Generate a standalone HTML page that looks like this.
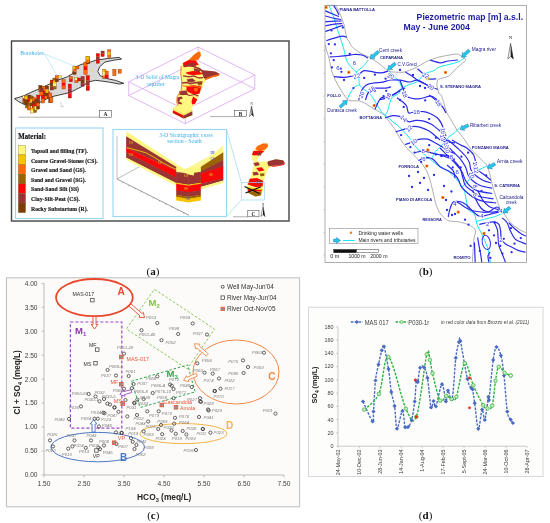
<!DOCTYPE html>
<html><head><meta charset="utf-8"><style>
html,body{margin:0;padding:0;background:#fff;overflow:hidden;}
svg{display:block;}
</style></head><body>
<svg width="550" height="523" viewBox="0 0 550 523">
<rect width="550" height="523" fill="#fff"/>
<rect x="11.5" y="41" width="277.5" height="180" fill="#fff" stroke="#444" stroke-width="1.4"/>
<polygon points="14.4,98.6 22.9,96.2 30.5,92.5 40.0,88.5 46.4,85.5 58.2,80.0 67.3,76.8 72.7,73.6 74.5,67.5 81.0,64.5 90.0,62.3 95.5,60.3 107.3,58.5 119.1,57.4 121.5,59.1 113.2,60.3 104.9,62.1 99.6,66.8 97.8,71.5 100.2,75.7 107.3,78.6 115.6,80.4 123.8,83.4 119.1,84.0 109.6,82.2 101.4,81.0 95.5,80.4 89.6,81.6 81.0,87.0 70.0,92.5 60.0,94.8 49.0,97.3 44.7,100.0 39.3,102.7 28.4,105.4 25.1,104.9 18.5,101.6" fill="#d9d9d9" stroke="#111" stroke-width="0.8" stroke-linejoin="round"/>
<line x1="44.5" y1="54" x2="57" y2="75.5" stroke="#8fd6f2" stroke-width="0.5"/>
<line x1="44.5" y1="54" x2="74" y2="66" stroke="#8fd6f2" stroke-width="0.5"/>
<text x="20.3" y="55.3" font-family="'Liberation Serif', serif" font-size="6.4" fill="#36aee6" textLength="23.5" lengthAdjust="spacingAndGlyphs">Boreholes</text>
<rect x="22.85" y="95.60" width="3.3" height="2.78" fill="#fdf77f"/>
<rect x="22.85" y="98.33" width="3.3" height="2.78" fill="#f80808"/>
<rect x="22.85" y="101.07" width="3.3" height="2.78" fill="#9a6500"/>
<rect x="22.85" y="95.60" width="3.3" height="8.20" fill="none" stroke="#6a2a08" stroke-width="0.3"/>
<rect x="27.75" y="95.00" width="3.3" height="3.35" fill="#7f3c06"/>
<rect x="27.75" y="98.30" width="3.3" height="3.35" fill="#f80808"/>
<rect x="27.75" y="95.00" width="3.3" height="6.60" fill="none" stroke="#6a2a08" stroke-width="0.3"/>
<rect x="29.95" y="96.00" width="3.3" height="3.38" fill="#9a6500"/>
<rect x="29.95" y="99.33" width="3.3" height="3.38" fill="#f6c400"/>
<rect x="29.95" y="102.67" width="3.3" height="3.38" fill="#7f3c06"/>
<rect x="29.95" y="96.00" width="3.3" height="10.00" fill="none" stroke="#6a2a08" stroke-width="0.3"/>
<rect x="32.15" y="97.30" width="3.3" height="3.68" fill="#fb6a0c"/>
<rect x="32.15" y="100.93" width="3.3" height="3.68" fill="#7f3c06"/>
<rect x="32.15" y="104.57" width="3.3" height="3.68" fill="#f80808"/>
<rect x="32.15" y="97.30" width="3.3" height="10.90" fill="none" stroke="#6a2a08" stroke-width="0.3"/>
<rect x="33.25" y="106.00" width="3.3" height="3.30" fill="#f6c400"/>
<rect x="33.25" y="109.25" width="3.3" height="3.30" fill="#9a6500"/>
<rect x="33.25" y="106.00" width="3.3" height="6.50" fill="none" stroke="#6a2a08" stroke-width="0.3"/>
<rect x="36.55" y="95.00" width="3.3" height="4.45" fill="#f80808"/>
<rect x="36.55" y="99.40" width="3.3" height="4.45" fill="#9a3434"/>
<rect x="36.55" y="95.00" width="3.3" height="8.80" fill="none" stroke="#6a2a08" stroke-width="0.3"/>
<rect x="38.75" y="85.30" width="3.3" height="3.30" fill="#7f3c06"/>
<rect x="38.75" y="88.55" width="3.3" height="3.30" fill="#fb6a0c"/>
<rect x="38.75" y="85.30" width="3.3" height="6.50" fill="none" stroke="#6a2a08" stroke-width="0.3"/>
<rect x="41.95" y="86.40" width="3.3" height="4.05" fill="#fb6a0c"/>
<rect x="41.95" y="90.40" width="3.3" height="4.05" fill="#f80808"/>
<rect x="41.95" y="94.40" width="3.3" height="4.05" fill="#fb6a0c"/>
<rect x="41.95" y="86.40" width="3.3" height="12.00" fill="none" stroke="#6a2a08" stroke-width="0.3"/>
<rect x="46.35" y="91.80" width="3.3" height="3.35" fill="#f80808"/>
<rect x="46.35" y="95.10" width="3.3" height="3.35" fill="#9a3434"/>
<rect x="46.35" y="91.80" width="3.3" height="6.60" fill="none" stroke="#6a2a08" stroke-width="0.3"/>
<rect x="48.55" y="93.00" width="3.3" height="4.90" fill="#fb6a0c"/>
<rect x="48.55" y="97.85" width="3.3" height="4.90" fill="#7f3c06"/>
<rect x="48.55" y="93.00" width="3.3" height="9.70" fill="none" stroke="#6a2a08" stroke-width="0.3"/>
<rect x="50.15" y="80.00" width="3.3" height="3.38" fill="#f80808"/>
<rect x="50.15" y="83.33" width="3.3" height="3.38" fill="#7f3c06"/>
<rect x="50.15" y="86.67" width="3.3" height="3.38" fill="#9a3434"/>
<rect x="50.15" y="80.00" width="3.3" height="10.00" fill="none" stroke="#6a2a08" stroke-width="0.3"/>
<rect x="52.85" y="78.00" width="3.3" height="2.80" fill="#9a6500"/>
<rect x="52.85" y="80.75" width="3.3" height="2.80" fill="#f6c400"/>
<rect x="52.85" y="83.50" width="3.3" height="2.80" fill="#fdf77f"/>
<rect x="52.85" y="86.25" width="3.3" height="2.80" fill="#9a6500"/>
<rect x="52.85" y="78.00" width="3.3" height="11.00" fill="none" stroke="#6a2a08" stroke-width="0.3"/>
<rect x="55.15" y="75.50" width="3.3" height="3.20" fill="#fb6a0c"/>
<rect x="55.15" y="78.65" width="3.3" height="3.20" fill="#7f3c06"/>
<rect x="55.15" y="75.50" width="3.3" height="6.30" fill="none" stroke="#6a2a08" stroke-width="0.3"/>
<rect x="58.35" y="75.50" width="3.3" height="2.55" fill="#fdf77f"/>
<rect x="58.35" y="75.50" width="3.3" height="2.50" fill="none" stroke="#6a2a08" stroke-width="0.3"/>
<rect x="61.95" y="79.50" width="3.3" height="3.22" fill="#fb6a0c"/>
<rect x="61.95" y="82.67" width="3.3" height="3.22" fill="#f80808"/>
<rect x="61.95" y="85.83" width="3.3" height="3.22" fill="#fb6a0c"/>
<rect x="61.95" y="79.50" width="3.3" height="9.50" fill="none" stroke="#6a2a08" stroke-width="0.3"/>
<rect x="68.15" y="84.00" width="3.3" height="4.72" fill="#f80808"/>
<rect x="68.15" y="88.67" width="3.3" height="4.72" fill="#9a3434"/>
<rect x="68.15" y="93.33" width="3.3" height="4.72" fill="#f80808"/>
<rect x="68.15" y="84.00" width="3.3" height="14.00" fill="none" stroke="#6a2a08" stroke-width="0.3"/>
<rect x="69.25" y="76.40" width="3.3" height="2.75" fill="#fb6a0c"/>
<rect x="69.25" y="79.10" width="3.3" height="2.75" fill="#f80808"/>
<rect x="69.25" y="76.40" width="3.3" height="5.40" fill="none" stroke="#6a2a08" stroke-width="0.3"/>
<rect x="72.85" y="66.00" width="3.3" height="2.88" fill="#f6c400"/>
<rect x="72.85" y="68.83" width="3.3" height="2.88" fill="#fb6a0c"/>
<rect x="72.85" y="71.67" width="3.3" height="2.88" fill="#7f3c06"/>
<rect x="72.85" y="66.00" width="3.3" height="8.50" fill="none" stroke="#6a2a08" stroke-width="0.3"/>
<rect x="75.65" y="66.40" width="3.3" height="2.65" fill="#fb6a0c"/>
<rect x="75.65" y="66.40" width="3.3" height="2.60" fill="none" stroke="#6a2a08" stroke-width="0.3"/>
<rect x="74.75" y="77.30" width="3.3" height="2.75" fill="#fdf77f"/>
<rect x="74.75" y="80.00" width="3.3" height="2.75" fill="#fb6a0c"/>
<rect x="74.75" y="77.30" width="3.3" height="5.40" fill="none" stroke="#6a2a08" stroke-width="0.3"/>
<rect x="77.35" y="78.00" width="3.3" height="3.05" fill="#f80808"/>
<rect x="77.35" y="78.00" width="3.3" height="3.00" fill="none" stroke="#6a2a08" stroke-width="0.3"/>
<rect x="80.95" y="76.40" width="3.3" height="3.38" fill="#9a3434"/>
<rect x="80.95" y="79.73" width="3.3" height="3.38" fill="#7f3c06"/>
<rect x="80.95" y="83.07" width="3.3" height="3.38" fill="#9a3434"/>
<rect x="80.95" y="76.40" width="3.3" height="10.00" fill="none" stroke="#6a2a08" stroke-width="0.3"/>
<rect x="83.85" y="62.00" width="3.3" height="4.22" fill="#fb6a0c"/>
<rect x="83.85" y="66.17" width="3.3" height="4.22" fill="#f80808"/>
<rect x="83.85" y="70.33" width="3.3" height="4.22" fill="#fb6a0c"/>
<rect x="83.85" y="62.00" width="3.3" height="12.50" fill="none" stroke="#6a2a08" stroke-width="0.3"/>
<rect x="86.15" y="75.50" width="3.3" height="5.05" fill="#f80808"/>
<rect x="86.15" y="80.50" width="3.3" height="5.05" fill="#9a3434"/>
<rect x="86.15" y="85.50" width="3.3" height="5.05" fill="#f80808"/>
<rect x="86.15" y="75.50" width="3.3" height="15.00" fill="none" stroke="#6a2a08" stroke-width="0.3"/>
<rect x="86.35" y="56.80" width="3.3" height="2.42" fill="#f6c400"/>
<rect x="86.35" y="59.17" width="3.3" height="2.42" fill="#fb6a0c"/>
<rect x="86.35" y="61.53" width="3.3" height="2.42" fill="#7f3c06"/>
<rect x="86.35" y="56.80" width="3.3" height="7.10" fill="none" stroke="#6a2a08" stroke-width="0.3"/>
<rect x="96.15" y="53.50" width="3.3" height="3.32" fill="#f80808"/>
<rect x="96.15" y="56.77" width="3.3" height="3.32" fill="#9a3434"/>
<rect x="96.15" y="60.03" width="3.3" height="3.32" fill="#f80808"/>
<rect x="96.15" y="53.50" width="3.3" height="9.80" fill="none" stroke="#6a2a08" stroke-width="0.3"/>
<rect x="100.95" y="51.00" width="3.3" height="2.80" fill="#9a3434"/>
<rect x="100.95" y="53.75" width="3.3" height="2.80" fill="#f80808"/>
<rect x="100.95" y="51.00" width="3.3" height="5.50" fill="none" stroke="#6a2a08" stroke-width="0.3"/>
<rect x="107.55" y="49.80" width="3.3" height="2.58" fill="#fb6a0c"/>
<rect x="107.55" y="52.33" width="3.3" height="2.58" fill="#f6c400"/>
<rect x="107.55" y="54.87" width="3.3" height="2.58" fill="#fb6a0c"/>
<rect x="107.55" y="49.80" width="3.3" height="7.60" fill="none" stroke="#6a2a08" stroke-width="0.3"/>
<rect x="85.85" y="56.50" width="3.3" height="3.30" fill="#f6c400"/>
<rect x="85.85" y="59.75" width="3.3" height="3.30" fill="#fb6a0c"/>
<rect x="85.85" y="56.50" width="3.3" height="6.50" fill="none" stroke="#6a2a08" stroke-width="0.3"/>
<rect x="102.65" y="69.20" width="3.3" height="3.18" fill="#f6c400"/>
<rect x="102.65" y="72.33" width="3.3" height="3.18" fill="#fdf77f"/>
<rect x="102.65" y="75.47" width="3.3" height="3.18" fill="#fb6a0c"/>
<rect x="102.65" y="69.20" width="3.3" height="9.40" fill="none" stroke="#6a2a08" stroke-width="0.3"/>
<rect x="105.05" y="71.00" width="3.3" height="3.55" fill="#fb6a0c"/>
<rect x="105.05" y="74.50" width="3.3" height="3.55" fill="#f80808"/>
<rect x="105.05" y="71.00" width="3.3" height="7.00" fill="none" stroke="#6a2a08" stroke-width="0.3"/>
<rect x="112.75" y="69.20" width="3.3" height="6.55" fill="#fb6a0c"/>
<rect x="112.75" y="69.20" width="3.3" height="6.50" fill="none" stroke="#6a2a08" stroke-width="0.3"/>
<rect x="118.05" y="69.20" width="3.3" height="4.15" fill="#fb6a0c"/>
<rect x="118.05" y="69.20" width="3.3" height="4.10" fill="none" stroke="#6a2a08" stroke-width="0.3"/>
<rect x="49.65" y="97.30" width="3.3" height="5.45" fill="#fb6a0c"/>
<rect x="49.65" y="97.30" width="3.3" height="5.40" fill="none" stroke="#6a2a08" stroke-width="0.3"/>
<rect x="43.85" y="93.00" width="3.3" height="3.05" fill="#7f3c06"/>
<rect x="43.85" y="96.00" width="3.3" height="3.05" fill="#fb6a0c"/>
<rect x="43.85" y="93.00" width="3.3" height="6.00" fill="none" stroke="#6a2a08" stroke-width="0.3"/>
<rect x="25.35" y="100.00" width="3.3" height="2.72" fill="#f80808"/>
<rect x="25.35" y="102.67" width="3.3" height="2.72" fill="#7f3c06"/>
<rect x="25.35" y="105.33" width="3.3" height="2.72" fill="#9a6500"/>
<rect x="25.35" y="100.00" width="3.3" height="8.00" fill="none" stroke="#6a2a08" stroke-width="0.3"/>
<rect x="34.85" y="99.00" width="3.3" height="3.72" fill="#7f3c06"/>
<rect x="34.85" y="102.67" width="3.3" height="3.72" fill="#f80808"/>
<rect x="34.85" y="106.33" width="3.3" height="3.72" fill="#fdf77f"/>
<rect x="34.85" y="99.00" width="3.3" height="11.00" fill="none" stroke="#6a2a08" stroke-width="0.3"/>
<rect x="39.85" y="88.00" width="3.3" height="4.05" fill="#9a3434"/>
<rect x="39.85" y="92.00" width="3.3" height="4.05" fill="#fb6a0c"/>
<rect x="39.85" y="88.00" width="3.3" height="8.00" fill="none" stroke="#6a2a08" stroke-width="0.3"/>
<rect x="27.35" y="103.00" width="3.3" height="3.55" fill="#9a6500"/>
<rect x="27.35" y="106.50" width="3.3" height="3.55" fill="#fb6a0c"/>
<rect x="27.35" y="103.00" width="3.3" height="7.00" fill="none" stroke="#6a2a08" stroke-width="0.3"/>
<rect x="30.35" y="108.00" width="3.3" height="2.55" fill="#f6c400"/>
<rect x="30.35" y="110.50" width="3.3" height="2.55" fill="#fdf77f"/>
<rect x="30.35" y="108.00" width="3.3" height="5.00" fill="none" stroke="#6a2a08" stroke-width="0.3"/>
<rect x="36.35" y="103.00" width="3.3" height="3.05" fill="#fb6a0c"/>
<rect x="36.35" y="106.00" width="3.3" height="3.05" fill="#7f3c06"/>
<rect x="36.35" y="103.00" width="3.3" height="6.00" fill="none" stroke="#6a2a08" stroke-width="0.3"/>
<rect x="41.35" y="95.00" width="3.3" height="4.05" fill="#f80808"/>
<rect x="41.35" y="99.00" width="3.3" height="4.05" fill="#fb6a0c"/>
<rect x="41.35" y="95.00" width="3.3" height="8.00" fill="none" stroke="#6a2a08" stroke-width="0.3"/>
<rect x="24.35" y="96.00" width="3.3" height="3.55" fill="#f6c400"/>
<rect x="24.35" y="99.50" width="3.3" height="3.55" fill="#7f3c06"/>
<rect x="24.35" y="96.00" width="3.3" height="7.00" fill="none" stroke="#6a2a08" stroke-width="0.3"/>
<rect x="45.35" y="86.00" width="3.3" height="3.55" fill="#7f3c06"/>
<rect x="45.35" y="89.50" width="3.3" height="3.55" fill="#f6c400"/>
<rect x="45.35" y="86.00" width="3.3" height="7.00" fill="none" stroke="#6a2a08" stroke-width="0.3"/>
<circle cx="92" cy="70.4" r="0.9" fill="#e8d840"/>
<path d="M60.5,102 L61.5,107 L64,106" fill="none" stroke="#888" stroke-width="0.4"/>
<line x1="18.3" y1="117.2" x2="99.5" y2="117.2" stroke="#777" stroke-width="0.6"/>
<rect x="99.5" y="110.6" width="12" height="6.6" fill="#fff" stroke="#333" stroke-width="0.5"/>
<text x="105.5" y="116" font-family="'Liberation Serif', serif" font-size="5.5" font-weight="bold" text-anchor="middle" fill="#222">A</text>
<line x1="128.7" y1="81.8" x2="198.2" y2="47" stroke="#c87cf0" stroke-width="0.55"/>
<line x1="198.2" y1="47" x2="254.8" y2="75" stroke="#c87cf0" stroke-width="0.55"/>
<line x1="254.8" y1="75" x2="185.3" y2="109.8" stroke="#c87cf0" stroke-width="0.55"/>
<line x1="185.3" y1="109.8" x2="128.7" y2="81.8" stroke="#c87cf0" stroke-width="0.55"/>
<line x1="128.7" y1="95.6" x2="198.2" y2="60.8" stroke="#c87cf0" stroke-width="0.55"/>
<line x1="198.2" y1="60.8" x2="254.8" y2="88.8" stroke="#c87cf0" stroke-width="0.55"/>
<line x1="254.8" y1="88.8" x2="185.3" y2="123.6" stroke="#c87cf0" stroke-width="0.55"/>
<line x1="185.3" y1="123.6" x2="128.7" y2="95.6" stroke="#c87cf0" stroke-width="0.55"/>
<line x1="128.7" y1="81.8" x2="128.7" y2="95.6" stroke="#c87cf0" stroke-width="0.55"/>
<line x1="198.2" y1="47" x2="198.2" y2="60.8" stroke="#c87cf0" stroke-width="0.55"/>
<line x1="254.8" y1="75" x2="254.8" y2="88.8" stroke="#c87cf0" stroke-width="0.55"/>
<line x1="185.3" y1="109.8" x2="185.3" y2="123.6" stroke="#c87cf0" stroke-width="0.55"/>
<polygon points="200.2,51.5 200.9,55.8 198.7,59.3 195.8,60.8 199.4,65.1 200.9,70.1 208.0,70.8 215.2,71.5 219.5,73.7 218.8,75.8 212.3,77.3 206.6,79.4 203.7,83.7 202.3,88.0 199.4,93.8 197.3,99.5 195.1,103.8 192.3,106.7 192.3,115.3 183.7,118.5 172.9,112.4 172.9,108.1 177.9,105.3 176.5,101.0 177.2,95.9 180.8,92.3 182.2,86.6 180.8,79.4 181.5,72.3 180.8,66.5 182.9,62.9 188.7,60.1 193.7,55.0 197.3,52.2" fill="#fdf77f"/>
<polygon points="188.7,60.1 193.7,55.0 197.3,52.2 200.2,51.5 200.9,55.8 198.7,59.3 195.8,60.8 192.3,61.1" fill="#fb6a0c"/>
<polygon points="182.9,62.9 188.7,60.1 195.8,60.8 198.7,64.4 193.7,66.5 188.0,66.5 183.4,66.5" fill="#f80808"/>
<polygon points="188.0,63.4 193.7,62.5 195.8,65.1 191.5,66.5 187.7,65.8" fill="#9a3434"/>
<polygon points="193.7,68.0 200.9,70.1 199.4,72.3 194.4,71.5" fill="#9a3434"/>
<polygon points="186.5,72.3 193.7,71.1 200.2,72.3 200.9,74.4 193.7,75.1 188.0,74.4" fill="#f80808"/>
<polygon points="200.9,70.1 208.0,70.8 215.2,71.5 219.5,73.7 218.8,75.8 212.3,77.3 206.6,79.4 203.7,78.0 202.6,74.4" fill="#9a3434"/>
<polygon points="219.5,73.7 218.8,75.8 212.3,77.3 206.6,79.4 204.5,80.2 206.6,77.7 212.3,75.7 217.8,74.6" fill="#fb6a0c"/>
<polygon points="186.5,79.4 192.3,78.3 195.8,80.9 191.5,82.6 188.0,82.0" fill="#9a3434"/>
<polygon points="197.3,81.6 202.6,80.9 201.6,85.2 198.0,85.5" fill="#9a6500"/>
<polygon points="186.5,85.9 193.7,85.2 201.6,86.6 199.4,93.8 194.4,94.5 190.1,93.1 186.5,90.9" fill="#f80808"/>
<polygon points="193.7,88.0 198.0,88.0 197.3,91.6 194.4,91.2" fill="#fb6a0c"/>
<polygon points="179.3,90.9 186.5,90.6 188.0,94.5 182.2,95.2 179.3,93.8" fill="#9a3434"/>
<polygon points="177.2,97.4 181.5,96.4 182.9,98.4 180.1,99.2 179.3,101.7 182.2,103.1 181.5,104.5 178.2,103.8 177.2,101.0" fill="#9a3434"/>
<polygon points="193.0,96.6 197.3,99.5 195.1,103.8 192.3,104.5 191.5,101.7" fill="#f80808"/>
<polyline points="184.4,66.5 189.4,65.1 193.7,66.5 199.4,68.7 201.6,70.5" fill="none" stroke="#9a3434" stroke-width="1.65" stroke-linejoin="round" stroke-linecap="round"/>
<polyline points="186.5,73.0 192.3,72.0 198.0,72.5 202.3,73.7" fill="none" stroke="#f80808" stroke-width="1.20" stroke-linejoin="round" stroke-linecap="round"/>
<polyline points="183.7,75.8 188.7,76.9 193.7,75.8 198.7,78.0 202.6,77.7" fill="none" stroke="#9a3434" stroke-width="1.35" stroke-linejoin="round" stroke-linecap="round"/>
<polyline points="182.2,83.0 186.5,82.6 190.8,83.7 195.8,82.6 201.6,83.0" fill="none" stroke="#9a3434" stroke-width="1.50" stroke-linejoin="round" stroke-linecap="round"/>
<polyline points="182.9,85.9 189.4,86.6 195.1,85.9 200.9,88.0" fill="none" stroke="#fb6a0c" stroke-width="1.05" stroke-linejoin="round" stroke-linecap="round"/>
<polyline points="180.1,94.5 185.1,93.8 189.4,95.5 194.4,94.5 198.0,95.9" fill="none" stroke="#9a3434" stroke-width="1.20" stroke-linejoin="round" stroke-linecap="round"/>
<polyline points="181.1,66.5 180.8,73.7 181.9,82.3 181.1,90.9 177.2,96.6 176.8,102.4 177.9,105.3" fill="none" stroke="#fb6a0c" stroke-width="0.90" stroke-linejoin="round" stroke-linecap="round"/>
<polygon points="172.9,108.1 183.7,113.6 192.3,109.3 192.3,111.3 183.7,115.6 172.9,110.3" fill="#f4ea6a"/>
<polygon points="172.9,110.3 183.7,115.6 183.7,118.5 172.9,113.1" fill="#f80808"/>
<polygon points="183.7,115.6 192.3,111.3 192.3,115.3 183.7,118.5" fill="#9a3434"/>
<polygon points="172.9,112.1 183.7,117.5 192.3,113.6 192.3,114.4 183.7,118.5 172.9,113.1" fill="#7f3c06" opacity="0.6"/>
<text x="157.6" y="79.4" font-family="'Liberation Serif', serif" font-size="6.4" fill="#36aee6" text-anchor="middle" textLength="44" lengthAdjust="spacingAndGlyphs">3-D Solid of Magra</text>
<text x="156" y="85.8" font-family="'Liberation Serif', serif" font-size="6.4" fill="#36aee6" text-anchor="middle">aquifer</text>
<line x1="210" y1="116.6" x2="234.5" y2="116.6" stroke="#777" stroke-width="0.6"/>
<rect x="234.5" y="110.5" width="11.9" height="6.2" fill="#fff" stroke="#333" stroke-width="0.5"/>
<text x="240.4" y="115.6" font-family="'Liberation Serif', serif" font-size="5.2" font-weight="bold" text-anchor="middle" fill="#222">B</text>
<text x="251.5" y="105.0" font-family="'Liberation Serif', serif" font-size="3" text-anchor="middle" fill="#222">N</text>
<path d="M251.5,106.0 L249.5,116.5 L251.5,114.5 L253.5,116.5 Z" fill="#fff" stroke="#222" stroke-width="0.5"/>
<path d="M251.5,106.0 L251.5,114.5 L253.5,116.5 Z" fill="#222"/>
<rect x="15.5" y="128" width="87.5" height="90.5" fill="#fff" stroke="#9ad6f2" stroke-width="1.1"/>
<text x="18.2" y="139" font-family="'Liberation Serif', serif" font-size="7.2" font-weight="bold" fill="#1a1a1a" stroke="#1a1a1a" stroke-width="0.2" textLength="27.8" lengthAdjust="spacingAndGlyphs">Material:</text>
<rect x="18.3" y="145.30" width="7.3" height="9.62" fill="#fdf77f" stroke="#6a5a3a" stroke-width="0.3"/>
<text x="31" y="153.00" font-family="'Liberation Serif', serif" font-size="6.2" font-weight="bold" fill="#1e1e1e" stroke="#1e1e1e" stroke-width="0.18" textLength="57" lengthAdjust="spacingAndGlyphs">Topsoil and filling (TF).</text>
<rect x="18.3" y="154.92" width="7.3" height="9.62" fill="#f6c400" stroke="#6a5a3a" stroke-width="0.3"/>
<text x="31" y="162.62" font-family="'Liberation Serif', serif" font-size="6.2" font-weight="bold" fill="#1e1e1e" stroke="#1e1e1e" stroke-width="0.18" textLength="66.7" lengthAdjust="spacingAndGlyphs">Coarse Gravel-Stones (CS).</text>
<rect x="18.3" y="164.54" width="7.3" height="9.62" fill="#fb6a0c" stroke="#6a5a3a" stroke-width="0.3"/>
<text x="31" y="172.24" font-family="'Liberation Serif', serif" font-size="6.2" font-weight="bold" fill="#1e1e1e" stroke="#1e1e1e" stroke-width="0.18" textLength="55" lengthAdjust="spacingAndGlyphs">Gravel and Sand (GS).</text>
<rect x="18.3" y="174.16" width="7.3" height="9.62" fill="#9a6500" stroke="#6a5a3a" stroke-width="0.3"/>
<text x="31" y="181.86" font-family="'Liberation Serif', serif" font-size="6.2" font-weight="bold" fill="#1e1e1e" stroke="#1e1e1e" stroke-width="0.18" textLength="55" lengthAdjust="spacingAndGlyphs">Sand and Gravel (SG).</text>
<rect x="18.3" y="183.78" width="7.3" height="9.62" fill="#f80808" stroke="#6a5a3a" stroke-width="0.3"/>
<text x="31" y="191.48" font-family="'Liberation Serif', serif" font-size="6.2" font-weight="bold" fill="#1e1e1e" stroke="#1e1e1e" stroke-width="0.18" textLength="48" lengthAdjust="spacingAndGlyphs">Sand-Sand Silt (SS)</text>
<rect x="18.3" y="193.40" width="7.3" height="9.62" fill="#9a3434" stroke="#6a5a3a" stroke-width="0.3"/>
<text x="31" y="201.10" font-family="'Liberation Serif', serif" font-size="6.2" font-weight="bold" fill="#1e1e1e" stroke="#1e1e1e" stroke-width="0.18" textLength="49" lengthAdjust="spacingAndGlyphs">Clay-Silt-Peat (CS).</text>
<rect x="18.3" y="203.02" width="7.3" height="9.62" fill="#7f3c06" stroke="#6a5a3a" stroke-width="0.3"/>
<text x="31" y="210.72" font-family="'Liberation Serif', serif" font-size="6.2" font-weight="bold" fill="#1e1e1e" stroke="#1e1e1e" stroke-width="0.18" textLength="57" lengthAdjust="spacingAndGlyphs">Rocky Substartum (R).</text>
<rect x="113" y="129.5" width="113.5" height="87" fill="#fff" stroke="#9ad6f2" stroke-width="1.1"/>
<line x1="117" y1="136" x2="117" y2="179" stroke="#5a5a5a" stroke-width="0.4"/>
<line x1="117" y1="179" x2="189" y2="215.3" stroke="#5a5a5a" stroke-width="0.6"/>
<line x1="117" y1="179" x2="141" y2="165.8" stroke="#5a5a5a" stroke-width="0.4"/>
<line x1="123.1" y1="182.1" x2="122.5" y2="183.3" stroke="#5a5a5a" stroke-width="0.4"/>
<line x1="129.2" y1="185.1" x2="128.6" y2="186.3" stroke="#5a5a5a" stroke-width="0.4"/>
<line x1="135.3" y1="188.2" x2="134.7" y2="189.4" stroke="#5a5a5a" stroke-width="0.4"/>
<line x1="141.4" y1="191.3" x2="140.8" y2="192.5" stroke="#5a5a5a" stroke-width="0.4"/>
<line x1="147.5" y1="194.3" x2="146.9" y2="195.5" stroke="#5a5a5a" stroke-width="0.4"/>
<line x1="153.6" y1="197.4" x2="153.0" y2="198.6" stroke="#5a5a5a" stroke-width="0.4"/>
<line x1="159.7" y1="200.5" x2="159.1" y2="201.7" stroke="#5a5a5a" stroke-width="0.4"/>
<line x1="165.8" y1="203.6" x2="165.2" y2="204.8" stroke="#5a5a5a" stroke-width="0.4"/>
<line x1="171.9" y1="206.6" x2="171.3" y2="207.8" stroke="#5a5a5a" stroke-width="0.4"/>
<line x1="178.0" y1="209.7" x2="177.4" y2="210.9" stroke="#5a5a5a" stroke-width="0.4"/>
<line x1="184.1" y1="212.8" x2="183.5" y2="214.0" stroke="#5a5a5a" stroke-width="0.4"/>
<polygon points="126.1,131.3 176.8,164.3 176.8,167.5 126.1,136.5" fill="#fdf77f"/>
<polygon points="126.1,136.2 176.8,167.2 176.8,171.0 126.1,148.1" fill="#9a3434"/>
<polygon points="126.1,147.8 176.8,170.7 176.8,178.2 126.1,152.5" fill="#f80808"/>
<polygon points="126.1,152.2 176.8,177.8 176.8,183.7 126.1,157.8" fill="#9a3434"/>
<polygon points="126.1,157.5 176.8,183.3 176.8,186.1 126.1,159.7" fill="#fdf77f"/>
<path d="M127,147.6 L139.5,151 L146,152.8 L153.6,157 L162.4,162.5 L170,166.5 L176.5,169.5" fill="none" stroke="#f6c400" stroke-width="0.9"/>
<polygon points="200.2,165.2 223.3,145.5 223.3,152.5 200.2,167.7" fill="#fdf77f"/>
<polygon points="200.2,167.3 223.3,152.2 223.3,160.1 200.2,172.2" fill="#9a6500"/>
<polygon points="200.2,171.8 223.3,159.8 223.3,166.7 200.2,174.2" fill="#9a3434"/>
<polygon points="200.2,173.8 223.3,166.3 223.3,178.7 200.2,184.1" fill="#f80808"/>
<polygon points="200.2,183.8 223.3,178.3 223.3,180.8 200.2,187.3" fill="#9a3434"/>
<polygon points="200.2,187.0 223.3,180.4 223.3,183.0 200.2,189.6" fill="#fdf77f"/>
<polygon points="176.2,167.8 188.8,169.8 188.8,174.2 176.2,172.2" fill="#fdf77f"/>
<polygon points="176.2,171.8 188.8,173.8 188.8,185.0 176.2,183.0" fill="#9a3434"/>
<polygon points="176.2,182.7 188.8,184.7 188.8,186.1 176.2,184.1" fill="#f6c400"/>
<polygon points="176.2,183.8 188.8,185.8 188.8,192.7 176.2,190.7" fill="#f80808"/>
<polygon points="176.2,190.3 188.8,192.3 188.8,197.0 176.2,195.0" fill="#9a3434"/>
<polygon points="176.2,194.7 188.8,196.7 188.8,199.2 176.2,197.2" fill="#9a6500"/>
<polygon points="176.2,196.8 188.8,198.8 188.8,202.5 176.2,200.5" fill="#f6c400"/>
<polygon points="188.2,169.8 200.8,167.3 200.8,172.2 188.2,174.2" fill="#fdf77f"/>
<polygon points="188.2,173.8 200.8,171.8 200.8,183.0 188.2,185.0" fill="#9a3434"/>
<polygon points="188.2,184.7 200.8,182.7 200.8,184.1 188.2,186.1" fill="#f6c400"/>
<polygon points="188.2,185.8 200.8,183.8 200.8,190.7 188.2,192.7" fill="#f80808"/>
<polygon points="188.2,192.3 200.8,190.3 200.8,195.0 188.2,197.0" fill="#9a3434"/>
<polygon points="188.2,196.7 200.8,194.7 200.8,197.2 188.2,199.2" fill="#9a6500"/>
<polygon points="188.2,198.8 200.8,196.8 200.8,200.5 188.2,202.5" fill="#f6c400"/>
<polygon points="176.5,164.5 190.0,172.4 194.0,173.0 194.0,175.5 188.5,174.5 176.5,167.5" fill="#fdf77f"/>
<polygon points="200.5,165.4 223.0,145.7 223.0,148.5 181.0,171.5 177.0,172.5 177.0,170.5" fill="#fbf59a"/>
<polygon points="176.5,164.5 184.0,168.9 200.5,165.4 200.5,168.0 188.5,172.5 176.5,167.5" fill="#fdf77f"/>
<text x="131" y="144" font-family="'Liberation Serif', serif" font-size="3.2" font-weight="bold" fill="#e8c020" text-anchor="middle">CS</text>
<text x="131" y="155.5" font-family="'Liberation Serif', serif" font-size="3.2" font-weight="bold" fill="#e8c020" text-anchor="middle">CS</text>
<text x="160" y="163.5" font-family="'Liberation Serif', serif" font-size="3.2" font-weight="bold" fill="#e8c020" text-anchor="middle">CS</text>
<text x="186" y="176.5" font-family="'Liberation Serif', serif" font-size="3.2" font-weight="bold" fill="#e8c020" text-anchor="middle">CS</text>
<text x="186" y="189.5" font-family="'Liberation Serif', serif" font-size="3.2" font-weight="bold" fill="#e8c020" text-anchor="middle">SS</text>
<text x="187.5" y="200" font-family="'Liberation Serif', serif" font-size="3.2" font-weight="bold" fill="#4a5ad0" text-anchor="middle">CS</text>
<text x="212.5" y="154" font-family="'Liberation Serif', serif" font-size="3.2" font-weight="bold" fill="#4a5ad0" text-anchor="middle">DF</text>
<text x="212.5" y="159.5" font-family="'Liberation Serif', serif" font-size="3.2" font-weight="bold" fill="#4a5ad0" text-anchor="middle">CS</text>
<text x="211" y="176" font-family="'Liberation Serif', serif" font-size="3.2" font-weight="bold" fill="#e8c020" text-anchor="middle">SS</text>
<text x="186" y="136.6" font-family="'Liberation Serif', serif" font-size="6.2" fill="#36aee6" text-anchor="middle" textLength="53.4" lengthAdjust="spacingAndGlyphs">3-D Stratigraphic cross</text>
<text x="184.5" y="143" font-family="'Liberation Serif', serif" font-size="6.2" fill="#36aee6" text-anchor="middle" textLength="34.5" lengthAdjust="spacingAndGlyphs">section - South</text>
<line x1="226.5" y1="129.5" x2="241.3" y2="182.5" stroke="#9ad6f2" stroke-width="0.7"/>
<line x1="226.5" y1="216.5" x2="241.3" y2="200" stroke="#9ad6f2" stroke-width="0.7"/>
<polygon points="267.3,143.6 268.2,146.3 264.5,151.0 259.9,154.7 257.1,160.3 259.9,162.1 268.2,161.2 275.7,159.3 283.1,160.3 284.9,163.0 281.2,164.9 273.8,165.8 268.2,168.6 265.5,175.1 263.6,182.5 262.7,189.9 260.8,195.5 255.3,196.4 247.8,191.8 246.0,188.1 247.8,182.5 250.6,176.9 252.5,169.5 253.4,162.1 251.5,156.5 253.4,151.0 257.1,146.3 262.7,143.6" fill="#fdf77f"/>
<polygon points="257.1,146.3 262.7,143.6 267.3,143.6 268.2,146.3 264.5,150.0 259.9,151.0 255.3,149.5" fill="#fb6a0c"/>
<polygon points="253.4,151.0 259.9,150.6 264.5,151.0 259.9,154.7 254.3,155.6 251.9,154.7" fill="#f80808"/>
<polygon points="257.1,152.8 261.7,152.5 260.8,155.6 257.1,155.6" fill="#9a3434"/>
<polygon points="268.2,161.2 275.7,159.3 283.1,160.3 284.9,163.0 281.2,164.9 273.8,165.8 268.6,166.2 267.3,163.0" fill="#9a3434"/>
<polygon points="281.2,164.9 284.9,163.0 284.0,164.9 275.7,166.6 271.0,166.9 273.8,165.8" fill="#f80808"/>
<polygon points="253.4,163.0 258.0,162.1 259.9,164.9 255.3,166.2" fill="#9a3434"/>
<polygon points="256.2,168.0 261.7,167.3 264.5,170.5 259.0,171.4" fill="#f80808"/>
<polygon points="252.5,172.3 257.1,171.8 259.0,174.7 253.4,175.5" fill="#9a3434"/>
<polygon points="259.9,173.6 264.5,173.2 264.2,176.0 260.4,176.2" fill="#9a6500"/>
<polygon points="249.7,178.8 257.1,177.9 263.0,180.7 262.7,186.2 256.2,187.2 247.8,184.4" fill="#f80808"/>
<polygon points="256.2,180.7 261.7,180.3 260.8,183.4 256.7,184.0" fill="#9a3434"/>
<polygon points="246.9,187.2 262.7,189.0 262.3,190.9 246.9,189.6" fill="#f6c400"/>
<polygon points="247.8,190.9 261.7,192.2 260.8,195.5 255.3,196.4 247.8,192.7" fill="#9a6500"/>
<polygon points="247.8,189.0 261.7,190.3 261.6,191.8 247.8,191.0" fill="#f80808"/>
<path d="M244.5,186.5 L259.5,193.5 M245.5,193 L261,186.8" stroke="#111" stroke-width="1.1"/>
<rect x="241.3" y="182.5" width="23.2" height="17.5" fill="none" stroke="#9ad6f2" stroke-width="0.7"/>
<line x1="233" y1="216.8" x2="247.8" y2="216.8" stroke="#777" stroke-width="0.6"/>
<rect x="247.8" y="210.3" width="11.2" height="6.5" fill="#fff" stroke="#333" stroke-width="0.5"/>
<text x="253.4" y="215.6" font-family="'Liberation Serif', serif" font-size="5.2" font-weight="bold" text-anchor="middle" fill="#222">C</text>
<text x="263" y="205.5" font-family="'Liberation Serif', serif" font-size="3" text-anchor="middle" fill="#222">N</text>
<path d="M263,206.5 L261,216.5 L263,214.5 L265,216.5 Z" fill="#fff" stroke="#222" stroke-width="0.5"/>
<path d="M263,206.5 L263,214.5 L265,216.5 Z" fill="#222"/>
<rect x="325" y="5.5" width="201.5" height="257" fill="#fff" stroke="#9a9a9a" stroke-width="0.8"/>
<line x1="323.5" y1="28" x2="325" y2="28" stroke="#9a9a9a" stroke-width="0.5"/>
<line x1="323.5" y1="50.7" x2="325" y2="50.7" stroke="#9a9a9a" stroke-width="0.5"/>
<line x1="323.5" y1="73.4" x2="325" y2="73.4" stroke="#9a9a9a" stroke-width="0.5"/>
<line x1="323.5" y1="96" x2="325" y2="96" stroke="#9a9a9a" stroke-width="0.5"/>
<line x1="323.5" y1="118.9" x2="325" y2="118.9" stroke="#9a9a9a" stroke-width="0.5"/>
<line x1="323.5" y1="141.6" x2="325" y2="141.6" stroke="#9a9a9a" stroke-width="0.5"/>
<line x1="323.5" y1="164.3" x2="325" y2="164.3" stroke="#9a9a9a" stroke-width="0.5"/>
<line x1="323.5" y1="187" x2="325" y2="187" stroke="#9a9a9a" stroke-width="0.5"/>
<line x1="323.5" y1="209.7" x2="325" y2="209.7" stroke="#9a9a9a" stroke-width="0.5"/>
<line x1="323.5" y1="232.4" x2="325" y2="232.4" stroke="#9a9a9a" stroke-width="0.5"/>
<line x1="323.5" y1="255.1" x2="325" y2="255.1" stroke="#9a9a9a" stroke-width="0.5"/>
<path d="M325.3,5.7 C326.3,5.7 334.0,4.7 335.5,5.7 C337.0,6.7 339.8,13.6 340.6,15.5 C341.5,17.4 343.5,23.1 344.0,24.6 C344.5,26.1 344.9,29.0 345.2,30.4 C345.5,31.8 346.5,37.4 346.9,38.4 C347.2,39.4 348.2,39.9 348.7,40.7 C349.2,41.5 350.6,45.4 351.5,46.4 C352.4,47.4 356.2,50.2 357.3,51.0 C358.4,51.8 361.7,53.8 363.0,54.5 C364.3,55.2 368.5,56.6 370.2,57.6 C371.9,58.6 377.8,62.7 379.6,64.0 C381.4,65.3 386.5,70.2 388.0,71.0 C389.5,71.8 393.4,72.0 395.0,72.1 C396.6,72.2 402.0,72.5 404.0,72.1 C406.0,71.7 412.5,69.2 414.8,68.1 C417.1,67.0 424.6,62.5 426.9,61.4 C429.2,60.3 435.6,58.0 437.6,57.4 C439.6,56.8 445.0,55.8 447.0,55.5 C449.0,55.2 455.3,53.7 457.2,54.1 C459.1,54.5 465.8,58.5 465.8,59.8 C465.8,61.1 458.9,65.9 457.2,67.5 C455.5,69.1 450.3,75.0 448.6,76.1 C446.9,77.2 441.1,78.3 440.0,78.7 C438.9,79.1 437.8,79.3 437.5,80.0 C437.2,80.7 436.8,84.2 436.9,85.5 C437.0,86.8 438.5,92.5 438.9,93.5 C439.3,94.5 440.7,94.0 441.2,95.0 C441.7,96.0 443.4,101.3 443.9,103.0 C444.4,104.7 445.9,110.8 446.6,112.4 C447.3,114.0 449.5,117.3 450.6,119.1 C451.7,120.9 455.8,128.3 457.2,130.3 C458.6,132.3 462.7,137.1 464.1,139.0 C465.5,140.9 469.4,147.4 471.0,149.3 C472.6,151.2 478.1,156.3 479.6,157.9 C481.2,159.5 485.6,163.8 486.5,164.8 C487.4,165.8 487.8,166.8 488.2,168.2 C488.6,169.6 490.3,176.4 490.8,178.5 C491.3,180.6 492.8,186.7 493.4,188.8 C494.0,190.9 496.1,197.1 496.8,199.2 C497.5,201.3 499.6,208.3 500.2,209.5 C500.8,210.7 501.6,210.2 502.4,211.2 C503.2,212.2 506.9,218.3 508.0,219.7 C509.1,221.1 512.6,224.4 513.7,225.4 C514.8,226.4 518.1,228.8 519.4,229.6 C520.7,230.4 525.8,232.7 526.5,233.0" fill="none" stroke="#8a8a8a" stroke-width="0.7"/>
<path d="M472.4,262.5 C472.4,261.9 472.6,258.1 472.7,256.5 C472.8,254.9 473.3,248.4 473.4,246.6 C473.5,244.8 473.9,239.6 474.1,238.0 C474.3,236.4 475.7,232.1 475.6,231.0 C475.5,229.9 473.7,227.8 472.8,227.1 C471.9,226.4 467.9,224.4 466.4,223.9 C464.9,223.4 459.6,222.0 457.8,221.7 C456.0,221.4 449.9,221.4 448.2,220.7 C446.5,219.9 441.9,215.7 440.7,214.2 C439.5,212.7 437.1,207.8 436.4,205.7 C435.6,203.6 433.8,195.4 433.2,192.8 C432.6,190.2 430.6,182.1 430.0,180.0 C429.4,177.9 427.7,173.1 426.8,171.4 C425.9,169.7 422.6,164.3 421.4,162.8 C420.2,161.3 416.3,157.7 415.0,156.4 C413.7,155.1 409.8,151.3 408.6,150.0 C407.4,148.7 404.0,144.6 402.9,143.0 C401.8,141.4 398.6,135.9 397.7,134.4 C396.8,132.9 395.2,129.7 394.3,128.4 C393.4,127.1 390.1,122.8 389.1,121.5 C388.1,120.2 385.4,116.0 384.2,114.9 C383.0,113.8 378.8,111.7 377.5,110.9 C376.2,110.1 372.2,107.7 370.9,106.9 C369.6,106.1 365.4,103.4 364.2,102.8 C363.0,102.2 360.1,101.0 358.8,100.8 C357.5,100.6 352.0,101.0 350.8,100.8 C349.6,100.6 347.7,99.8 346.8,98.8 C345.9,97.8 342.5,92.5 341.4,90.8 C340.3,89.1 336.9,83.3 336.0,81.4 C335.1,79.5 332.7,74.1 332.0,72.0 C331.3,69.9 329.7,61.5 329.4,60.0 C329.1,58.5 328.9,57.9 328.6,56.8 C328.3,55.7 326.6,50.6 326.3,49.4 C326.0,48.2 325.4,45.4 325.3,45.0" fill="none" stroke="#8a8a8a" stroke-width="0.7"/>
<path d="M329.2,5.7 C330.1,7.9 333.1,15.4 334.3,18.9 C335.5,22.4 335.6,23.8 336.6,26.9 C337.6,30.0 339.2,34.4 340.1,37.3 C341.1,40.2 341.6,41.6 342.3,44.1 C343.1,46.6 343.9,49.5 344.6,52.2 C345.3,54.9 345.4,57.8 346.4,60.2 C347.4,62.6 349.2,64.7 350.8,66.7 C352.4,68.7 354.8,70.0 356.1,72.0 C357.4,74.0 358.2,76.6 358.8,78.7 C359.4,80.8 358.6,83.0 359.5,84.8 C360.4,86.6 362.5,88.0 364.2,89.5 C365.9,91.0 367.9,92.0 369.5,93.5 C371.1,95.0 372.2,96.8 373.5,98.8 C374.8,100.8 376.1,103.3 377.5,105.5 C378.9,107.7 380.4,110.6 381.6,112.2 C382.9,113.8 383.1,113.5 385.0,115.1 C386.9,116.7 390.1,119.3 393.0,121.8 C395.9,124.2 399.5,126.9 402.4,129.8 C405.3,132.7 407.9,136.1 410.4,139.2 C412.8,142.3 414.6,145.8 417.1,148.5 C419.6,151.2 422.7,153.2 425.2,155.2 C427.7,157.2 429.9,159.0 431.9,160.6 C433.9,162.2 435.3,163.8 437.2,165.0 C439.1,166.2 440.9,166.8 443.0,168.0 C445.1,169.2 447.3,170.3 449.6,172.3 C451.9,174.3 454.7,177.2 457.0,180.0 C459.3,182.8 462.0,186.1 463.4,188.8 C464.8,191.5 464.9,193.6 465.5,196.0 C466.1,198.4 466.3,200.7 466.8,203.0 C467.3,205.3 467.2,208.2 468.5,210.0 C469.8,211.8 473.0,211.6 474.4,214.0 C475.8,216.4 475.7,221.0 477.1,224.6 C478.5,228.2 481.0,232.2 482.6,235.6 C484.2,239.0 485.6,242.7 486.5,245.0 C487.4,247.3 487.4,246.5 488.1,249.4 C488.8,252.3 490.1,260.3 490.5,262.5" fill="none" stroke="#19e6f0" stroke-width="1.0"/>
<path d="M359.5,84.8 C358.7,85.1 356.2,85.6 354.8,86.8 C353.4,88.0 352.0,90.1 350.8,92.1 C349.6,94.1 348.0,97.7 347.4,98.8" fill="none" stroke="#19e6f0" stroke-width="1.0"/>
<path d="M356.1,72.0 C357.5,70.9 362.2,67.4 364.2,65.4 C366.2,63.4 367.5,60.9 368.2,60.0" fill="none" stroke="#19e6f0" stroke-width="1.0"/>
<path d="M388.0,69.5 C388.9,70.6 391.7,74.3 393.4,76.1 C395.1,77.8 396.7,78.2 398.0,80.0 C399.3,81.8 401.3,84.7 401.4,86.9 C401.5,89.2 400.3,91.7 398.7,93.5 C397.1,95.3 393.6,95.8 392.0,97.6 C390.4,99.4 390.1,102.3 389.4,104.3 C388.7,106.3 388.5,108.0 388.0,109.6 C387.5,111.2 386.8,112.8 386.3,113.7 C385.8,114.6 385.2,114.9 385.0,115.1" fill="none" stroke="#19e6f0" stroke-width="1.0"/>
<path d="M465.0,57.0 C463.8,57.8 462.1,60.4 458.0,62.0 C453.9,63.6 444.3,65.3 440.2,66.8 C436.1,68.3 436.2,69.6 433.5,70.8 C430.8,72.0 426.9,72.3 424.2,74.1 C421.5,75.9 420.4,79.6 417.5,81.5 C414.6,83.4 409.5,84.4 406.8,85.5 C404.1,86.6 402.3,87.8 401.4,88.2" fill="none" stroke="#19e6f0" stroke-width="1.0"/>
<path d="M455.0,132.5 C453.8,133.4 450.2,135.6 447.9,137.8 C445.6,140.0 443.2,143.7 441.2,145.9 C439.2,148.1 437.4,149.2 435.9,151.2 C434.3,153.2 432.6,156.8 431.9,157.9" fill="none" stroke="#19e6f0" stroke-width="1.0"/>
<path d="M487.0,166.0 C485.4,166.8 480.2,168.9 477.5,170.8 C474.8,172.7 472.8,175.3 470.8,177.5 C468.8,179.7 467.0,182.6 465.4,184.2 C463.8,185.8 462.1,186.4 461.4,186.9" fill="none" stroke="#19e6f0" stroke-width="1.0"/>
<path d="M503.8,212.6 C502.4,213.2 498.4,215.4 495.4,216.5 C492.3,217.6 488.4,218.2 485.5,219.0 C482.6,219.8 479.6,220.5 478.0,221.0 C476.4,221.5 476.3,221.8 476.0,222.0" fill="none" stroke="#19e6f0" stroke-width="1.0"/>
<path d="M459.5,127.5 C458.8,128.3 455.8,131.7 455.0,132.5" fill="none" stroke="#19e6f0" stroke-width="1.0"/>
<path d="M325.3,10.9 C326.6,11.5 330.9,13.4 333.2,14.3 C335.5,15.2 337.9,16.2 338.9,16.6" fill="none" stroke="#2b2bea" stroke-width="1.2"/>
<path d="M333.7,5.7 C334.2,6.4 335.6,8.5 336.5,10.0 C337.4,11.5 338.5,14.1 338.9,14.9" fill="none" stroke="#2b2bea" stroke-width="1.2"/>
<path d="M325.3,16.0 C326.8,16.4 331.7,17.7 334.3,18.3 C336.9,18.9 340.1,19.3 341.2,19.5" fill="none" stroke="#2b2bea" stroke-width="1.2"/>
<path d="M325.3,21.8 C326.8,21.7 331.6,21.3 334.3,21.2 C337.1,21.1 340.6,21.0 341.8,21.0" fill="none" stroke="#2b2bea" stroke-width="1.2"/>
<path d="M325.3,25.8 C326.8,25.5 331.5,24.5 334.3,24.1 C337.1,23.7 341.0,23.6 342.3,23.5" fill="none" stroke="#2b2bea" stroke-width="1.2"/>
<path d="M325.3,31.5 C326.6,31.0 330.3,29.8 333.2,28.7 C336.1,27.6 341.3,25.8 342.9,25.2" fill="none" stroke="#2b2bea" stroke-width="1.2"/>
<path d="M326.3,40.7 C327.4,40.3 330.5,39.2 333.2,38.4 C335.9,37.6 340.0,36.3 342.3,36.1 C344.6,35.9 346.1,37.1 346.9,37.3" fill="none" stroke="#2b2bea" stroke-width="1.2"/>
<path d="M329.7,56.8 C331.1,56.8 334.9,56.7 337.8,56.5 C340.7,56.3 344.2,55.9 346.9,55.6 C349.6,55.3 351.3,54.6 353.8,54.5 C356.3,54.4 359.4,54.4 361.8,55.0 C364.2,55.6 367.0,57.5 368.0,58.0" fill="none" stroke="#2b2bea" stroke-width="1.2"/>
<path d="M334.0,76.7 C335.7,76.8 340.9,77.5 344.0,77.4 C347.1,77.3 350.8,76.3 352.8,76.0 C354.8,75.7 354.8,75.8 356.0,75.4 C357.2,75.0 358.6,74.2 360.0,73.4 C361.4,72.6 362.4,71.0 364.2,70.7 C366.0,70.4 368.7,71.1 370.9,71.4 C373.1,71.7 375.5,72.5 377.5,72.7 C379.5,72.9 381.1,73.0 382.9,72.7 C384.6,72.4 387.1,71.3 388.0,71.0" fill="none" stroke="#2b2bea" stroke-width="1.2"/>
<path d="M358.8,100.2 C359.1,98.8 359.9,94.3 360.8,92.1 C361.7,89.9 363.0,88.1 364.2,86.8 C365.4,85.5 366.4,84.8 368.2,84.1 C370.0,83.4 372.4,83.1 374.9,82.8 C377.3,82.5 380.2,82.6 382.9,82.1 C385.6,81.6 388.1,80.3 391.0,80.0 C393.9,79.7 396.8,79.9 400.0,80.2 C403.2,80.5 407.1,82.0 410.0,82.0 C412.9,82.0 414.5,79.6 417.5,80.2 C420.5,80.8 424.8,84.0 428.2,85.5 C431.6,87.0 436.0,88.8 437.6,89.5" fill="none" stroke="#2b2bea" stroke-width="1.2"/>
<path d="M365.5,100.2 C365.8,99.2 366.5,96.0 367.5,94.1 C368.5,92.2 369.8,89.8 371.5,88.8 C373.2,87.8 375.1,88.2 377.5,88.1 C379.9,88.0 383.4,88.3 385.6,88.1 C387.9,87.9 390.1,87.0 391.0,86.8" fill="none" stroke="#2b2bea" stroke-width="1.2"/>
<path d="M374.9,109.5 C375.8,107.7 378.4,100.9 380.2,98.8 C382.0,96.7 383.3,97.5 385.6,96.8 C387.9,96.1 391.6,95.9 394.0,94.8 C396.4,93.7 398.1,91.1 400.0,90.0 C401.9,88.9 404.5,88.3 405.4,88.0" fill="none" stroke="#2b2bea" stroke-width="1.2"/>
<path d="M380.0,99.6 C381.3,99.3 385.6,98.6 388.0,97.6 C390.4,96.6 392.7,94.6 394.7,93.5 C396.7,92.4 399.1,91.4 400.0,91.0" fill="none" stroke="#2b2bea" stroke-width="1.2"/>
<path d="M405.4,72.1 C406.5,72.8 410.0,74.7 412.0,76.0 C414.0,77.3 415.7,79.0 417.5,80.2 C419.3,81.4 421.0,82.1 422.8,83.0 C424.6,83.9 427.3,85.1 428.2,85.5" fill="none" stroke="#2b2bea" stroke-width="1.2"/>
<path d="M417.5,68.8 C418.4,69.6 421.1,71.8 422.8,73.5 C424.5,75.2 425.3,77.9 427.5,78.8 C429.7,79.7 434.8,78.8 436.2,78.8" fill="none" stroke="#2b2bea" stroke-width="1.2"/>
<path d="M430.2,60.1 C431.9,60.5 437.2,62.6 440.2,62.8 C443.2,62.9 445.0,61.5 448.0,61.0 C451.0,60.5 456.3,60.2 458.0,60.0" fill="none" stroke="#2b2bea" stroke-width="1.2"/>
<path d="M400.0,80.2 C400.5,81.5 401.9,85.3 403.0,88.0 C404.1,90.7 404.2,94.4 406.8,96.2 C409.4,98.0 414.8,98.9 418.8,98.9 C422.8,98.9 427.5,95.8 430.9,96.2 C434.2,96.7 437.2,100.0 438.9,101.6 C440.6,103.2 440.6,105.3 441.0,106.0" fill="none" stroke="#2b2bea" stroke-width="1.2"/>
<path d="M397.0,97.7 C397.9,98.4 400.8,100.4 402.4,101.7 C404.0,103.0 405.5,104.2 406.4,105.7 C407.3,107.2 407.4,109.8 407.8,111.0 C408.2,112.2 407.8,113.0 409.1,113.1 C410.4,113.2 413.4,111.9 415.8,111.7 C418.2,111.5 421.4,111.4 423.8,111.7 C426.2,112.0 428.3,112.7 430.5,113.7 C432.7,114.7 435.4,116.2 437.2,117.8 C439.0,119.4 440.1,121.1 441.2,123.1 C442.3,125.1 443.1,127.7 443.9,129.8 C444.7,132.0 445.6,135.0 446.0,136.0" fill="none" stroke="#2b2bea" stroke-width="1.2"/>
<path d="M429.2,95.0 C430.3,95.9 433.7,98.4 435.9,100.4 C438.1,102.4 440.9,104.9 442.6,107.0 C444.3,109.1 445.4,112.0 446.0,113.0" fill="none" stroke="#2b2bea" stroke-width="1.2"/>
<path d="M385.0,117.8 C386.3,117.5 390.6,115.9 393.0,115.7 C395.4,115.5 397.9,116.0 399.7,116.4 C401.5,116.9 402.1,117.5 403.7,118.4 C405.3,119.3 407.1,121.5 409.1,121.8 C411.1,122.1 413.4,120.5 415.8,120.4 C418.2,120.3 421.1,120.4 423.8,121.1 C426.5,121.8 429.4,123.0 431.9,124.5 C434.3,126.0 436.7,128.2 438.5,129.8 C440.3,131.4 441.4,132.1 442.6,133.8 C443.9,135.5 445.1,139.0 446.0,140.0 C446.9,141.0 447.7,140.0 448.0,140.0" fill="none" stroke="#2b2bea" stroke-width="1.2"/>
<path d="M395.7,131.8 C396.8,131.5 400.3,130.5 402.4,129.8 C404.5,129.1 406.8,128.3 408.4,127.8 C410.0,127.2 409.9,126.6 411.8,126.5 C413.7,126.4 416.9,126.3 419.8,127.1 C422.7,127.9 426.5,129.5 429.2,131.1 C431.9,132.7 433.9,134.9 435.9,136.5 C437.9,138.1 439.4,139.6 441.2,140.5 C443.0,141.4 444.3,141.5 446.6,141.9 C448.9,142.3 453.6,142.8 455.0,143.0" fill="none" stroke="#2b2bea" stroke-width="1.2"/>
<path d="M405.1,144.5 C406.4,144.1 410.7,142.8 413.1,141.9 C415.6,141.0 417.4,139.6 419.8,139.2 C422.2,138.8 425.1,138.5 427.8,139.2 C430.5,139.9 433.4,141.9 435.9,143.2 C438.4,144.5 440.8,146.1 442.6,147.2 C444.4,148.3 444.5,148.8 446.6,149.9 C448.7,151.0 453.6,153.2 455.0,153.9" fill="none" stroke="#2b2bea" stroke-width="1.2"/>
<path d="M414.5,152.6 C415.9,152.4 420.5,151.2 423.2,151.2 C425.9,151.2 427.5,151.9 430.5,152.6 C433.5,153.3 438.1,154.3 441.2,155.2 C444.3,156.1 447.0,157.2 449.3,157.9 C451.6,158.6 454.1,159.1 455.0,159.3" fill="none" stroke="#2b2bea" stroke-width="1.2"/>
<path d="M418.5,160.6 C419.4,160.2 422.2,158.4 424.0,158.0 C425.8,157.6 428.3,157.9 429.2,157.9" fill="none" stroke="#2b2bea" stroke-width="1.2"/>
<path d="M452.0,140.0 C453.6,140.9 458.9,144.1 461.4,145.4 C463.9,146.7 464.8,146.4 466.8,148.0 C468.8,149.6 472.1,152.5 473.5,154.7 C474.9,156.9 474.8,158.9 475.5,161.4 C476.2,163.9 476.1,167.3 477.5,169.5 C478.9,171.7 482.0,173.0 484.2,174.8 C486.4,176.6 489.8,179.3 490.9,180.2" fill="none" stroke="#2b2bea" stroke-width="1.2"/>
<path d="M448.0,140.0 C449.6,141.3 454.5,145.3 457.4,148.0 C460.3,150.7 463.4,153.5 465.4,156.0 C467.4,158.5 468.6,160.6 469.5,162.8 C470.4,165.1 469.9,167.5 470.8,169.5 C471.7,171.5 472.8,173.0 474.8,174.8 C476.8,176.6 480.1,178.9 482.8,180.2 C485.5,181.5 489.5,182.4 490.9,182.8" fill="none" stroke="#2b2bea" stroke-width="1.2"/>
<path d="M444.0,142.7 C445.3,144.0 449.3,148.0 452.0,150.7 C454.7,153.4 457.8,156.0 460.0,158.7 C462.2,161.4 464.0,164.1 465.4,166.8 C466.8,169.5 467.0,172.6 468.1,174.8 C469.2,177.0 470.1,178.4 472.1,180.2 C474.1,182.0 476.9,184.2 480.2,185.5 C483.5,186.8 490.2,187.8 492.2,188.2" fill="none" stroke="#2b2bea" stroke-width="1.2"/>
<path d="M440.0,148.0 C441.1,149.1 444.2,152.2 446.7,154.7 C449.1,157.2 452.2,160.1 454.7,162.8 C457.1,165.5 459.6,167.9 461.4,170.8 C463.2,173.7 464.0,177.8 465.4,180.2 C466.8,182.6 467.5,183.7 469.5,185.5 C471.5,187.3 473.7,189.6 477.5,190.9 C481.3,192.2 489.8,193.1 492.2,193.5" fill="none" stroke="#2b2bea" stroke-width="1.2"/>
<path d="M440.0,154.7 C441.6,154.9 446.9,154.9 449.4,156.0 C451.8,157.1 452.9,159.4 454.7,161.4 C456.5,163.4 458.6,165.4 460.0,168.1 C461.4,170.8 461.9,174.6 462.8,177.5 C463.7,180.4 463.8,183.3 465.4,185.5 C466.9,187.7 469.9,189.1 472.1,190.9 C474.3,192.7 475.2,194.9 478.8,196.2 C482.4,197.5 491.1,198.4 493.5,198.9" fill="none" stroke="#2b2bea" stroke-width="1.2"/>
<path d="M421.4,157.5 C423.2,157.7 429.0,157.0 432.1,158.6 C435.2,160.2 437.4,164.8 440.0,166.8 C442.6,168.8 445.6,169.5 448.0,170.8 C450.4,172.1 452.9,173.2 454.7,174.8 C456.5,176.4 457.6,178.2 458.7,180.2 C459.8,182.2 459.8,184.7 461.4,186.9 C463.0,189.1 465.7,191.5 468.1,193.5 C470.6,195.5 473.4,197.6 476.1,198.9 C478.8,200.2 480.9,200.9 484.2,201.6 C487.5,202.3 494.2,202.7 496.2,202.9" fill="none" stroke="#2b2bea" stroke-width="1.2"/>
<path d="M447.1,165.0 C448.2,166.1 452.2,169.2 453.5,171.4 C454.8,173.6 454.8,176.9 455.0,178.0" fill="none" stroke="#2b2bea" stroke-width="1.2"/>
<path d="M453.4,201.6 C454.3,201.8 456.5,201.8 458.7,202.9 C460.9,204.0 464.2,207.0 466.8,208.3 C469.4,209.7 471.6,210.4 474.0,211.0 C476.4,211.6 478.8,211.8 481.2,212.0 C483.6,212.2 485.7,212.8 488.3,212.0 C490.9,211.2 494.7,207.2 496.8,207.0 C498.9,206.8 500.3,210.3 501.0,211.0" fill="none" stroke="#2b2bea" stroke-width="1.2"/>
<path d="M477.6,190.0 C478.4,191.6 480.7,197.1 482.6,199.8 C484.5,202.5 486.9,204.9 489.1,206.4 C491.3,207.9 493.7,208.1 495.6,208.8 C497.5,209.5 499.8,210.2 500.6,210.5" fill="none" stroke="#2b2bea" stroke-width="1.2"/>
<path d="M472.7,190.0 C473.2,191.6 474.6,196.8 476.0,199.8 C477.4,202.8 479.3,206.1 480.9,208.0 C482.5,209.9 483.9,210.6 485.8,211.3 C487.7,212.0 489.9,212.2 492.4,212.1 C494.9,212.0 499.2,210.8 500.6,210.5" fill="none" stroke="#2b2bea" stroke-width="1.2"/>
<path d="M448.2,217.0 C448.5,215.8 449.0,212.0 449.8,209.6 C450.6,207.2 451.5,203.7 453.1,202.3 C454.7,201.0 457.4,201.1 459.6,201.5 C461.8,201.9 464.0,203.1 466.2,204.7 C468.4,206.3 470.5,209.4 472.7,211.3 C474.9,213.2 477.1,215.5 479.3,216.2 C481.5,216.9 483.6,215.8 485.8,215.4 C488.0,215.0 490.2,214.2 492.4,213.7 C494.6,213.1 497.8,212.4 498.9,212.1" fill="none" stroke="#2b2bea" stroke-width="1.2"/>
<path d="M479.3,224.4 C480.7,224.1 485.1,223.1 487.5,222.7 C489.9,222.3 492.1,221.6 494.0,221.9 C495.9,222.2 497.8,222.9 498.9,224.4 C500.0,225.9 500.2,228.5 500.6,230.9 C501.0,233.3 500.6,236.9 501.4,239.1 C502.2,241.3 503.7,242.6 505.5,244.0 C507.3,245.4 509.8,246.2 512.0,247.3 C514.2,248.4 516.4,249.8 518.6,250.6 C520.9,251.4 524.4,251.9 525.5,252.2" fill="none" stroke="#2b2bea" stroke-width="1.2"/>
<path d="M494.0,221.9 C494.6,223.1 496.6,226.7 497.3,229.3 C498.0,231.9 497.8,234.8 498.1,237.5 C498.4,240.2 498.2,242.9 498.9,245.6 C499.6,248.3 501.1,251.0 502.2,253.8 C503.3,256.6 504.9,260.9 505.5,262.3" fill="none" stroke="#2b2bea" stroke-width="1.2"/>
<path d="M502.2,217.8 C503.0,218.6 505.7,220.5 507.1,222.7 C508.5,224.9 509.0,228.2 510.4,230.9 C511.8,233.6 513.4,237.2 515.3,239.1 C517.2,241.0 520.0,241.6 521.8,242.4 C523.6,243.2 525.3,243.7 526.0,244.0" fill="none" stroke="#2b2bea" stroke-width="1.2"/>
<path d="M508.7,222.7 C509.8,223.8 513.1,227.4 515.3,229.3 C517.5,231.2 520.0,233.1 521.8,234.2 C523.6,235.3 525.3,235.7 526.0,236.0" fill="none" stroke="#2b2bea" stroke-width="1.2"/>
<path d="M477.6,237.5 C477.9,239.1 478.8,244.3 479.3,247.3 C479.9,250.3 480.5,253.0 480.9,255.5 C481.3,258.0 481.6,261.2 481.7,262.3" fill="none" stroke="#2b2bea" stroke-width="1.2"/>
<path d="M474.4,242.4 C474.5,244.0 474.7,248.7 474.8,252.0 C474.9,255.3 475.1,260.6 475.2,262.3" fill="none" stroke="#2b2bea" stroke-width="1.2"/>
<path d="M489.0,262.3 C488.8,261.2 487.8,257.7 488.0,256.0 C488.2,254.3 489.7,252.7 490.0,252.0" fill="none" stroke="#2b2bea" stroke-width="1.2"/>
<ellipse cx="486.3" cy="242.4" rx="4" ry="7.2" transform="rotate(-12 486.3 242.4)" fill="none" stroke="#2b2bea" stroke-width="1.0"/>
<circle cx="342.9" cy="27.5" r="1.15" fill="#2b2bea"/>
<circle cx="331.5" cy="30.4" r="1.15" fill="#2b2bea"/>
<circle cx="328.8" cy="44.1" r="1.15" fill="#2b2bea"/>
<circle cx="334.9" cy="44.4" r="1.15" fill="#2b2bea"/>
<circle cx="330.9" cy="53.3" r="1.15" fill="#2b2bea"/>
<circle cx="349.8" cy="53.9" r="1.15" fill="#2b2bea"/>
<circle cx="333.7" cy="60.2" r="1.15" fill="#2b2bea"/>
<circle cx="332" cy="67.4" r="1.15" fill="#2b2bea"/>
<circle cx="340.7" cy="68.7" r="1.15" fill="#2b2bea"/>
<circle cx="341.4" cy="71.8" r="1.15" fill="#2b2bea"/>
<circle cx="344" cy="80" r="1.15" fill="#2b2bea"/>
<circle cx="353.5" cy="88.1" r="1.15" fill="#2b2bea"/>
<circle cx="364.2" cy="78" r="1.15" fill="#2b2bea"/>
<circle cx="374.9" cy="74.7" r="1.15" fill="#2b2bea"/>
<circle cx="385.6" cy="78.7" r="1.15" fill="#2b2bea"/>
<circle cx="374.9" cy="90.8" r="1.15" fill="#2b2bea"/>
<circle cx="386.2" cy="90.8" r="1.15" fill="#2b2bea"/>
<circle cx="383.6" cy="96.1" r="1.15" fill="#2b2bea"/>
<circle cx="400" cy="70" r="1.15" fill="#2b2bea"/>
<circle cx="413" cy="75" r="1.15" fill="#2b2bea"/>
<circle cx="420" cy="86" r="1.15" fill="#2b2bea"/>
<circle cx="425" cy="88" r="1.15" fill="#2b2bea"/>
<circle cx="400" cy="100" r="1.15" fill="#2b2bea"/>
<circle cx="425.2" cy="100.4" r="1.15" fill="#2b2bea"/>
<circle cx="403.7" cy="107" r="1.15" fill="#2b2bea"/>
<circle cx="429.2" cy="119.1" r="1.15" fill="#2b2bea"/>
<circle cx="401.1" cy="135.2" r="1.15" fill="#2b2bea"/>
<circle cx="435.9" cy="137.8" r="1.15" fill="#2b2bea"/>
<circle cx="410.4" cy="147.2" r="1.15" fill="#2b2bea"/>
<circle cx="414.5" cy="152.6" r="1.15" fill="#2b2bea"/>
<circle cx="429.2" cy="145.2" r="1.15" fill="#2b2bea"/>
<circle cx="435.9" cy="154.6" r="1.15" fill="#2b2bea"/>
<circle cx="441.9" cy="155.9" r="1.15" fill="#2b2bea"/>
<circle cx="450.6" cy="156.6" r="1.15" fill="#2b2bea"/>
<circle cx="421.1" cy="161.9" r="1.15" fill="#2b2bea"/>
<circle cx="468.1" cy="152.7" r="1.15" fill="#2b2bea"/>
<circle cx="461.4" cy="156.7" r="1.15" fill="#2b2bea"/>
<circle cx="452.7" cy="167.4" r="1.15" fill="#2b2bea"/>
<circle cx="460.7" cy="167.4" r="1.15" fill="#2b2bea"/>
<circle cx="477.5" cy="170.8" r="1.15" fill="#2b2bea"/>
<circle cx="486.2" cy="175.5" r="1.15" fill="#2b2bea"/>
<circle cx="481.5" cy="190.9" r="1.15" fill="#2b2bea"/>
<circle cx="451.4" cy="191.5" r="1.15" fill="#2b2bea"/>
<circle cx="441.3" cy="156" r="1.15" fill="#2b2bea"/>
<circle cx="465" cy="219.7" r="1.15" fill="#2b2bea"/>
<circle cx="468.5" cy="224.7" r="1.15" fill="#2b2bea"/>
<circle cx="494" cy="235.3" r="1.15" fill="#2b2bea"/>
<circle cx="496" cy="243" r="1.15" fill="#2b2bea"/>
<circle cx="500.3" cy="245.9" r="1.15" fill="#2b2bea"/>
<circle cx="503.8" cy="238.8" r="1.15" fill="#2b2bea"/>
<circle cx="510.9" cy="228.2" r="1.15" fill="#2b2bea"/>
<circle cx="520.8" cy="238.1" r="1.15" fill="#2b2bea"/>
<circle cx="514.5" cy="243.7" r="1.15" fill="#2b2bea"/>
<circle cx="511.6" cy="252.2" r="1.15" fill="#2b2bea"/>
<circle cx="502.4" cy="253.6" r="1.15" fill="#2b2bea"/>
<circle cx="490.4" cy="257.9" r="1.15" fill="#2b2bea"/>
<circle cx="470.6" cy="245.9" r="1.15" fill="#2b2bea"/>
<circle cx="479.8" cy="250.8" r="1.15" fill="#2b2bea"/>
<circle cx="489" cy="230.3" r="1.15" fill="#2b2bea"/>
<circle cx="494.7" cy="222.5" r="1.15" fill="#2b2bea"/>
<circle cx="418" cy="172" r="1.15" fill="#2b2bea"/>
<circle cx="424" cy="178" r="1.15" fill="#2b2bea"/>
<circle cx="428" cy="190" r="1.15" fill="#2b2bea"/>
<circle cx="444" cy="186" r="1.15" fill="#2b2bea"/>
<circle cx="446" cy="200" r="1.15" fill="#2b2bea"/>
<circle cx="455" cy="214" r="1.15" fill="#2b2bea"/>
<circle cx="434" cy="175" r="1.15" fill="#2b2bea"/>
<circle cx="420" cy="183" r="1.15" fill="#2b2bea"/>
<circle cx="452" cy="215" r="1.15" fill="#2b2bea"/>
<circle cx="447" cy="210" r="1.15" fill="#2b2bea"/>
<circle cx="409" cy="176" r="1.15" fill="#2b2bea"/>
<circle cx="412" cy="187" r="1.15" fill="#2b2bea"/>
<rect x="324.6" y="5.9" width="3" height="3" fill="#f5a623"/><circle cx="326.1" cy="7.4" r="0.9" fill="#e02020"/>
<rect x="347.3" y="70.8" width="3" height="3" fill="#f5a623"/><circle cx="348.8" cy="72.3" r="0.9" fill="#e02020"/>
<rect x="372.7" y="104.0" width="3" height="3" fill="#f5a623"/><circle cx="374.2" cy="105.5" r="0.9" fill="#e02020"/>
<rect x="426.3" y="148.5" width="3" height="3" fill="#f5a623"/><circle cx="427.8" cy="150" r="0.9" fill="#e02020"/>
<rect x="441.3" y="196.0" width="3" height="3" fill="#f5a623"/><circle cx="442.8" cy="197.5" r="0.9" fill="#e02020"/>
<rect x="482.5" y="232.0" width="3" height="3" fill="#f5a623"/><circle cx="484" cy="233.5" r="0.9" fill="#e02020"/>
<rect x="425.3" y="164.5" width="3" height="3" fill="#f5a623"/><circle cx="426.8" cy="166" r="0.9" fill="#e02020"/>
<rect x="456.7" y="210.6" width="3" height="3" fill="#f5a623"/><circle cx="458.2" cy="212.1" r="0.9" fill="#e02020"/>
<rect x="444.0" y="70.9" width="3" height="3" fill="#f5a623"/><circle cx="445.5" cy="72.4" r="0.9" fill="#e02020"/>
<rect x="426.0" y="76.7" width="3" height="3" fill="#f5a623"/><circle cx="427.5" cy="78.2" r="0.9" fill="#e02020"/>
<text transform="translate(388.3,96.3) rotate(-60)" font-family="'Liberation Sans', sans-serif" font-size="6" fill="#2b2bea" stroke="#fff" stroke-width="1.6" paint-order="stroke" text-anchor="middle" dy="2.1">18</text>
<text transform="translate(416.5,111.7) rotate(0)" font-family="'Liberation Sans', sans-serif" font-size="6" fill="#2b2bea" stroke="#fff" stroke-width="1.6" paint-order="stroke" text-anchor="middle" dy="2.1">16</text>
<text transform="translate(438.5,103) rotate(60)" font-family="'Liberation Sans', sans-serif" font-size="6" fill="#2b2bea" stroke="#fff" stroke-width="1.6" paint-order="stroke" text-anchor="middle" dy="2.1">18</text>
<text transform="translate(403.7,118.4) rotate(45)" font-family="'Liberation Sans', sans-serif" font-size="6" fill="#2b2bea" stroke="#fff" stroke-width="1.6" paint-order="stroke" text-anchor="middle" dy="2.1">14</text>
<text transform="translate(409.1,128.5) rotate(-45)" font-family="'Liberation Sans', sans-serif" font-size="6" fill="#2b2bea" stroke="#fff" stroke-width="1.6" paint-order="stroke" text-anchor="middle" dy="2.1">12</text>
<text transform="translate(443.2,131.1) rotate(80)" font-family="'Liberation Sans', sans-serif" font-size="6" fill="#2b2bea" stroke="#fff" stroke-width="1.6" paint-order="stroke" text-anchor="middle" dy="2.1">16</text>
<text transform="translate(442.6,137.8) rotate(80)" font-family="'Liberation Sans', sans-serif" font-size="6" fill="#2b2bea" stroke="#fff" stroke-width="1.6" paint-order="stroke" text-anchor="middle" dy="2.1">14</text>
<text transform="translate(413.8,141.9) rotate(-40)" font-family="'Liberation Sans', sans-serif" font-size="6" fill="#2b2bea" stroke="#fff" stroke-width="1.6" paint-order="stroke" text-anchor="middle" dy="2.1">10</text>
<text transform="translate(446.6,145.2) rotate(70)" font-family="'Liberation Sans', sans-serif" font-size="6" fill="#2b2bea" stroke="#fff" stroke-width="1.6" paint-order="stroke" text-anchor="middle" dy="2.1">12</text>
<text transform="translate(447.2,149.9) rotate(70)" font-family="'Liberation Sans', sans-serif" font-size="6" fill="#2b2bea" stroke="#fff" stroke-width="1.6" paint-order="stroke" text-anchor="middle" dy="2.1">10</text>
<text transform="translate(423.2,151.2) rotate(0)" font-family="'Liberation Sans', sans-serif" font-size="6" fill="#2b2bea" stroke="#fff" stroke-width="1.6" paint-order="stroke" text-anchor="middle" dy="2.1">8</text>
<text transform="translate(451.3,156.6) rotate(0)" font-family="'Liberation Sans', sans-serif" font-size="6" fill="#2b2bea" stroke="#fff" stroke-width="1.6" paint-order="stroke" text-anchor="middle" dy="2.1">8</text>
<text transform="translate(423.8,158.6) rotate(0)" font-family="'Liberation Sans', sans-serif" font-size="6" fill="#2b2bea" stroke="#fff" stroke-width="1.6" paint-order="stroke" text-anchor="middle" dy="2.1">6</text>
<text transform="translate(425.5,75.5) rotate(30)" font-family="'Liberation Sans', sans-serif" font-size="6" fill="#2b2bea" stroke="#fff" stroke-width="1.6" paint-order="stroke" text-anchor="middle" dy="2.1">22</text>
<text transform="translate(430.9,86.9) rotate(30)" font-family="'Liberation Sans', sans-serif" font-size="6" fill="#2b2bea" stroke="#fff" stroke-width="1.6" paint-order="stroke" text-anchor="middle" dy="2.1">20</text>
<text transform="translate(404.8,94.2) rotate(70)" font-family="'Liberation Sans', sans-serif" font-size="6" fill="#2b2bea" stroke="#fff" stroke-width="1.6" paint-order="stroke" text-anchor="middle" dy="2.1">18</text>
<text transform="translate(390.7,76.1) rotate(20)" font-family="'Liberation Sans', sans-serif" font-size="6" fill="#2b2bea" stroke="#fff" stroke-width="1.6" paint-order="stroke" text-anchor="middle" dy="2.1">20</text>
<text transform="translate(356.8,76) rotate(-10)" font-family="'Liberation Sans', sans-serif" font-size="6" fill="#2b2bea" stroke="#fff" stroke-width="1.6" paint-order="stroke" text-anchor="middle" dy="2.1">22</text>
<text transform="translate(361.5,94.8) rotate(-70)" font-family="'Liberation Sans', sans-serif" font-size="6" fill="#2b2bea" stroke="#fff" stroke-width="1.6" paint-order="stroke" text-anchor="middle" dy="2.1">20</text>
<text transform="translate(371.5,89.5) rotate(-30)" font-family="'Liberation Sans', sans-serif" font-size="6" fill="#2b2bea" stroke="#fff" stroke-width="1.6" paint-order="stroke" text-anchor="middle" dy="2.1">18</text>
<text transform="translate(457.2,171.6) rotate(0)" font-family="'Liberation Sans', sans-serif" font-size="6" fill="#2b2bea" stroke="#fff" stroke-width="1.6" paint-order="stroke" text-anchor="middle" dy="2.1">6</text>
<text transform="translate(475.3,164.8) rotate(80)" font-family="'Liberation Sans', sans-serif" font-size="6" fill="#2b2bea" stroke="#fff" stroke-width="1.6" paint-order="stroke" text-anchor="middle" dy="2.1">14</text>
<text transform="translate(476.1,170) rotate(80)" font-family="'Liberation Sans', sans-serif" font-size="6" fill="#2b2bea" stroke="#fff" stroke-width="1.6" paint-order="stroke" text-anchor="middle" dy="2.1">12</text>
<text transform="translate(471.8,175) rotate(70)" font-family="'Liberation Sans', sans-serif" font-size="6" fill="#2b2bea" stroke="#fff" stroke-width="1.6" paint-order="stroke" text-anchor="middle" dy="2.1">10</text>
<text transform="translate(475.3,186.3) rotate(70)" font-family="'Liberation Sans', sans-serif" font-size="6" fill="#2b2bea" stroke="#fff" stroke-width="1.6" paint-order="stroke" text-anchor="middle" dy="2.1">8</text>
<text transform="translate(475.3,194.9) rotate(70)" font-family="'Liberation Sans', sans-serif" font-size="6" fill="#2b2bea" stroke="#fff" stroke-width="1.6" paint-order="stroke" text-anchor="middle" dy="2.1">6</text>
<text transform="translate(481.9,216.2) rotate(0)" font-family="'Liberation Sans', sans-serif" font-size="6" fill="#2b2bea" stroke="#fff" stroke-width="1.6" paint-order="stroke" text-anchor="middle" dy="2.1">4</text>
<text transform="translate(501,211.2) rotate(0)" font-family="'Liberation Sans', sans-serif" font-size="6" fill="#2b2bea" stroke="#fff" stroke-width="1.6" paint-order="stroke" text-anchor="middle" dy="2.1">4</text>
<text transform="translate(487.6,224) rotate(0)" font-family="'Liberation Sans', sans-serif" font-size="6" fill="#2b2bea" stroke="#fff" stroke-width="1.6" paint-order="stroke" text-anchor="middle" dy="2.1">2</text>
<text transform="translate(501,239.5) rotate(0)" font-family="'Liberation Sans', sans-serif" font-size="6" fill="#2b2bea" stroke="#fff" stroke-width="1.6" paint-order="stroke" text-anchor="middle" dy="2.1">2</text>
<text transform="translate(455,203.5) rotate(0)" font-family="'Liberation Sans', sans-serif" font-size="6" fill="#2b2bea" stroke="#fff" stroke-width="1.6" paint-order="stroke" text-anchor="middle" dy="2.1">4</text>
<text transform="translate(354.5,62.4) rotate(0)" font-family="'Liberation Sans', sans-serif" font-size="6" fill="#2b2bea" stroke="#fff" stroke-width="1.6" paint-order="stroke" text-anchor="middle" dy="2.1">6</text>
<text transform="translate(338,68) rotate(0)" font-family="'Liberation Sans', sans-serif" font-size="6" fill="#2b2bea" stroke="#fff" stroke-width="1.6" paint-order="stroke" text-anchor="middle" dy="2.1">6</text>
<polygon points="377.5,50.4 372.0,55.2 371.0,54.1 370.0,59.0 375.0,58.6 374.0,57.5 379.5,52.6" fill="#22c8ec" stroke="#2a5a9a" stroke-width="0.4"/>
<polygon points="394.3,62.2 389.7,66.1 388.7,64.9 387.6,69.8 392.6,69.5 391.6,68.4 396.3,64.4" fill="#22c8ec" stroke="#2a5a9a" stroke-width="0.4"/>
<polygon points="468.3,49.2 463.5,53.4 462.5,52.3 461.5,57.2 466.5,56.8 465.5,55.7 470.3,51.4" fill="#22c8ec" stroke="#2a5a9a" stroke-width="0.4"/>
<polygon points="341.0,108.3 345.5,104.0 346.6,105.1 347.4,100.2 342.4,100.8 343.5,101.9 339.0,106.1" fill="#22c8ec" stroke="#2a5a9a" stroke-width="0.4"/>
<polygon points="467.7,123.9 462.7,126.4 462.0,125.0 459.8,129.5 464.7,130.4 464.0,129.1 469.1,126.5" fill="#22c8ec" stroke="#2a5a9a" stroke-width="0.4"/>
<polygon points="494.3,162.6 490.1,164.9 489.3,163.6 487.3,168.2 492.3,168.9 491.5,167.6 495.7,165.2" fill="#22c8ec" stroke="#2a5a9a" stroke-width="0.4"/>
<polygon points="509.1,206.3 505.2,209.3 504.3,208.2 503.0,213.0 508.0,212.9 507.1,211.7 510.9,208.7" fill="#22c8ec" stroke="#2a5a9a" stroke-width="0.4"/>
<text x="339.4" y="10.8" font-family="'Liberation Sans', sans-serif" font-size="4.4" font-weight="bold" fill="#1c1c8c" textLength="35.5" lengthAdjust="spacingAndGlyphs">PIANA BATTOLLA</text>
<text x="380" y="59.3" font-family="'Liberation Sans', sans-serif" font-size="4.4" font-weight="bold" fill="#1c1c8c" textLength="23" lengthAdjust="spacingAndGlyphs">CEPARANA</text>
<text x="440" y="87.8" font-family="'Liberation Sans', sans-serif" font-size="4.4" font-weight="bold" fill="#1c1c8c" textLength="41" lengthAdjust="spacingAndGlyphs">S. STEFANO MAGRA</text>
<text x="327.3" y="96.8" font-family="'Liberation Sans', sans-serif" font-size="4.4" font-weight="bold" fill="#1c1c8c" textLength="13.5" lengthAdjust="spacingAndGlyphs">FOLLO</text>
<text x="359.5" y="119" font-family="'Liberation Sans', sans-serif" font-size="4.4" font-weight="bold" fill="#1c1c8c" textLength="22.7" lengthAdjust="spacingAndGlyphs">BOTTAGNA</text>
<text x="471.8" y="149.2" font-family="'Liberation Sans', sans-serif" font-size="4.4" font-weight="bold" fill="#1c1c8c" textLength="37" lengthAdjust="spacingAndGlyphs">PONZANO MAGRA</text>
<text x="398.5" y="168.4" font-family="'Liberation Sans', sans-serif" font-size="4.4" font-weight="bold" fill="#1c1c8c" textLength="20.5" lengthAdjust="spacingAndGlyphs">FORNOLA</text>
<text x="494.2" y="187.1" font-family="'Liberation Sans', sans-serif" font-size="4.4" font-weight="bold" fill="#1c1c8c" textLength="25.8" lengthAdjust="spacingAndGlyphs">S. CATERINA</text>
<text x="396" y="201" font-family="'Liberation Sans', sans-serif" font-size="4.4" font-weight="bold" fill="#1c1c8c" textLength="36.2" lengthAdjust="spacingAndGlyphs">PIANO DI ARCOLA</text>
<text x="422.5" y="221.3" font-family="'Liberation Sans', sans-serif" font-size="4.4" font-weight="bold" fill="#1c1c8c" textLength="19.3" lengthAdjust="spacingAndGlyphs">RESSORA</text>
<text x="453.5" y="258.7" font-family="'Liberation Sans', sans-serif" font-size="4.4" font-weight="bold" fill="#1c1c8c" textLength="17.2" lengthAdjust="spacingAndGlyphs">ROMITO</text>
<text x="379" y="52.2" font-family="'Liberation Sans', sans-serif" font-size="4.6" fill="#1c1c8c" textLength="23" lengthAdjust="spacingAndGlyphs">Cerri creek</text>
<text x="397.5" y="65.6" font-family="'Liberation Sans', sans-serif" font-size="4.6" fill="#1c1c8c" textLength="19.5" lengthAdjust="spacingAndGlyphs">C.V.Greci</text>
<text x="471.8" y="50.8" font-family="'Liberation Sans', sans-serif" font-size="4.6" fill="#1c1c8c" textLength="24.2" lengthAdjust="spacingAndGlyphs">Magra river</text>
<text x="327.3" y="112.4" font-family="'Liberation Sans', sans-serif" font-size="4.6" fill="#1c1c8c" textLength="29.5" lengthAdjust="spacingAndGlyphs">Durasca creek</text>
<text x="470" y="126.6" font-family="'Liberation Sans', sans-serif" font-size="4.6" fill="#1c1c8c" textLength="31" lengthAdjust="spacingAndGlyphs">Ribarberi creek</text>
<text x="496.8" y="163.3" font-family="'Liberation Sans', sans-serif" font-size="4.6" fill="#1c1c8c" textLength="25.8" lengthAdjust="spacingAndGlyphs">Arnia creek</text>
<text x="499.4" y="198.6" font-family="'Liberation Sans', sans-serif" font-size="4.6" fill="#1c1c8c" textLength="24.1" lengthAdjust="spacingAndGlyphs">Calcandola</text>
<text x="506" y="204.3" font-family="'Liberation Sans', sans-serif" font-size="4.6" fill="#1c1c8c" textLength="10.6" lengthAdjust="spacingAndGlyphs">creek</text>
<text x="416.6" y="20.3" font-family="'Liberation Sans', sans-serif" font-size="9.2" font-weight="bold" fill="#1c1ca0" textLength="106.5" lengthAdjust="spacingAndGlyphs">Piezometric map [m] a.s.l.</text>
<text x="403.6" y="30.2" font-family="'Liberation Sans', sans-serif" font-size="9.2" font-weight="bold" fill="#1c1ca0" textLength="66.3" lengthAdjust="spacingAndGlyphs">May - June 2004</text>
<text x="510.6" y="38.8" font-family="'Liberation Serif',serif" font-size="5" text-anchor="middle" fill="#222">N</text>
<path d="M510.6,43.4 L507.8,59 L510.6,56.5 L513.4,59 Z" fill="#fff" stroke="#222" stroke-width="0.5"/>
<path d="M510.6,43.4 L510.6,56.5 L513.4,59 Z" fill="#222"/>
<rect x="329.3" y="228.5" width="88.7" height="15.1" fill="#fff" stroke="#8a8a8a" stroke-width="0.6"/>
<circle cx="351" cy="232.7" r="1.2" fill="#f08020"/>
<text x="358.4" y="234.5" font-family="'Liberation Sans', sans-serif" font-size="5.8" fill="#222" textLength="44.6" lengthAdjust="spacingAndGlyphs">Drinking water wells</text>
<polygon points="333.6,242.0 336.6,242.0 336.6,243.5 340.6,240.5 336.6,237.5 336.6,239.0 333.6,239.0" fill="#22c8ec" stroke="#2a5a9a" stroke-width="0.4"/>
<line x1="343" y1="240.5" x2="354.7" y2="240.5" stroke="#19e6f0" stroke-width="1"/>
<text x="358.4" y="242.4" font-family="'Liberation Sans', sans-serif" font-size="5.8" fill="#222" textLength="57.2" lengthAdjust="spacingAndGlyphs">Main rivers and tributaries</text>
<rect x="333.8" y="249.5" width="22.7" height="3.2" fill="#111" stroke="#111" stroke-width="0.4"/>
<rect x="356.5" y="249.5" width="21.9" height="3.2" fill="#fff" stroke="#111" stroke-width="0.4"/>
<text x="330.2" y="258.2" font-family="'Liberation Sans', sans-serif" font-size="4.8" fill="#222" textLength="9.1" lengthAdjust="spacingAndGlyphs">0 m</text>
<text x="348.4" y="258.2" font-family="'Liberation Sans', sans-serif" font-size="4.8" fill="#222" textLength="17.2" lengthAdjust="spacingAndGlyphs">1000 m</text>
<text x="370.2" y="258.2" font-family="'Liberation Sans', sans-serif" font-size="4.8" fill="#222" textLength="17.3" lengthAdjust="spacingAndGlyphs">2000 m</text>
<rect x="6.5" y="277.8" width="293" height="229" fill="#fcfbf9" stroke="#c4c4c4" stroke-width="1.1"/>
<line x1="44" y1="283.3" x2="44" y2="475" stroke="#a0a0a0" stroke-width="0.7"/>
<line x1="44" y1="475" x2="284" y2="475" stroke="#a0a0a0" stroke-width="0.7"/>
<line x1="41.5" y1="475.00" x2="44" y2="475.00" stroke="#a0a0a0" stroke-width="0.6"/>
<text x="37.5" y="477.30" font-family="'Liberation Sans', sans-serif" font-size="6.6" text-anchor="end" fill="#404040">0.00</text>
<line x1="41.5" y1="451.05" x2="44" y2="451.05" stroke="#a0a0a0" stroke-width="0.6"/>
<text x="37.5" y="453.35" font-family="'Liberation Sans', sans-serif" font-size="6.6" text-anchor="end" fill="#404040">0.50</text>
<line x1="41.5" y1="427.10" x2="44" y2="427.10" stroke="#a0a0a0" stroke-width="0.6"/>
<text x="37.5" y="429.40" font-family="'Liberation Sans', sans-serif" font-size="6.6" text-anchor="end" fill="#404040">1.00</text>
<line x1="41.5" y1="403.15" x2="44" y2="403.15" stroke="#a0a0a0" stroke-width="0.6"/>
<text x="37.5" y="405.45" font-family="'Liberation Sans', sans-serif" font-size="6.6" text-anchor="end" fill="#404040">1.50</text>
<line x1="41.5" y1="379.20" x2="44" y2="379.20" stroke="#a0a0a0" stroke-width="0.6"/>
<text x="37.5" y="381.50" font-family="'Liberation Sans', sans-serif" font-size="6.6" text-anchor="end" fill="#404040">2.00</text>
<line x1="41.5" y1="355.25" x2="44" y2="355.25" stroke="#a0a0a0" stroke-width="0.6"/>
<text x="37.5" y="357.55" font-family="'Liberation Sans', sans-serif" font-size="6.6" text-anchor="end" fill="#404040">2.50</text>
<line x1="41.5" y1="331.30" x2="44" y2="331.30" stroke="#a0a0a0" stroke-width="0.6"/>
<text x="37.5" y="333.60" font-family="'Liberation Sans', sans-serif" font-size="6.6" text-anchor="end" fill="#404040">3.00</text>
<line x1="41.5" y1="307.35" x2="44" y2="307.35" stroke="#a0a0a0" stroke-width="0.6"/>
<text x="37.5" y="309.65" font-family="'Liberation Sans', sans-serif" font-size="6.6" text-anchor="end" fill="#404040">3.50</text>
<line x1="41.5" y1="283.40" x2="44" y2="283.40" stroke="#a0a0a0" stroke-width="0.6"/>
<text x="37.5" y="285.70" font-family="'Liberation Sans', sans-serif" font-size="6.6" text-anchor="end" fill="#404040">4.00</text>
<line x1="44" y1="475" x2="44" y2="477.5" stroke="#a0a0a0" stroke-width="0.6"/>
<text x="44" y="486" font-family="'Liberation Sans', sans-serif" font-size="6.6" text-anchor="middle" fill="#404040">1.50</text>
<line x1="84" y1="475" x2="84" y2="477.5" stroke="#a0a0a0" stroke-width="0.6"/>
<text x="84" y="486" font-family="'Liberation Sans', sans-serif" font-size="6.6" text-anchor="middle" fill="#404040">2.50</text>
<line x1="124" y1="475" x2="124" y2="477.5" stroke="#a0a0a0" stroke-width="0.6"/>
<text x="124" y="486" font-family="'Liberation Sans', sans-serif" font-size="6.6" text-anchor="middle" fill="#404040">3.50</text>
<line x1="164" y1="475" x2="164" y2="477.5" stroke="#a0a0a0" stroke-width="0.6"/>
<text x="164" y="486" font-family="'Liberation Sans', sans-serif" font-size="6.6" text-anchor="middle" fill="#404040">4.50</text>
<line x1="204" y1="475" x2="204" y2="477.5" stroke="#a0a0a0" stroke-width="0.6"/>
<text x="204" y="486" font-family="'Liberation Sans', sans-serif" font-size="6.6" text-anchor="middle" fill="#404040">5.50</text>
<line x1="244" y1="475" x2="244" y2="477.5" stroke="#a0a0a0" stroke-width="0.6"/>
<text x="244" y="486" font-family="'Liberation Sans', sans-serif" font-size="6.6" text-anchor="middle" fill="#404040">6.50</text>
<line x1="284" y1="475" x2="284" y2="477.5" stroke="#a0a0a0" stroke-width="0.6"/>
<text x="284" y="486" font-family="'Liberation Sans', sans-serif" font-size="6.6" text-anchor="middle" fill="#404040">7.50</text>
<text x="164.2" y="500" font-family="'Liberation Sans', sans-serif" font-size="8.4" font-weight="bold" text-anchor="middle" fill="#262626">HCO<tspan font-size="5.6" dy="2">3</tspan><tspan dy="-2"> (meq/L)</tspan></text>
<text transform="translate(20,382.3) rotate(-90)" font-family="'Liberation Sans', sans-serif" font-size="8.2" font-weight="bold" text-anchor="middle" fill="#262626">Cl + SO<tspan font-size="5.6" dy="2">4</tspan><tspan dy="-2"> (meq/L)</tspan></text>
<ellipse cx="94.4" cy="297.6" rx="38.4" ry="18.6" fill="none" stroke="#e8472c" stroke-width="1.8"/>
<rect x="70.4" y="322" width="51.4" height="106.2" fill="none" stroke="#9a48c8" stroke-width="1.2" stroke-dasharray="3,2"/>
<polygon points="154.5,289.3 214.5,329.0 187.3,369.0 126.4,328.9" fill="none" stroke="#7ec24a" stroke-width="0.9" stroke-dasharray="2.6,1.8"/>
<polygon points="131.3,381.3 187.7,364.9 195.1,391.9 140.3,407.5" fill="none" stroke="#2fa84f" stroke-width="1" stroke-dasharray="2.6,1.8"/>
<ellipse cx="236" cy="372" rx="43" ry="32" fill="none" stroke="#f08848" stroke-width="1"/>
<ellipse cx="97.7" cy="447.1" rx="46.8" ry="14.7" fill="none" stroke="#4a78c4" stroke-width="1"/>
<ellipse cx="183.5" cy="433.6" rx="43.5" ry="10" fill="none" stroke="#f6b443" stroke-width="1"/>
<polygon points="93.0,316.5 93.0,324.5 91.2,324.5 94.5,329.0 97.8,324.5 96.0,324.5 96.0,316.5" fill="#fff" stroke="#e8472c" stroke-width="0.9" stroke-linejoin="miter"/>
<polygon points="129.0,306.1 140.1,315.9 139.0,317.2 144.5,317.7 143.3,312.3 142.1,313.6 131.0,303.9" fill="#fff" stroke="#e8472c" stroke-width="0.9" stroke-linejoin="miter"/>
<polygon points="95.1,432.0 95.1,424.0 96.8,424.0 93.6,419.5 90.3,424.0 92.1,424.0 92.1,432.0" fill="#fff" stroke="#4a78c4" stroke-width="0.9" stroke-linejoin="miter"/>
<polygon points="196.1,373.3 187.1,377.3 186.4,375.7 183.6,380.5 189.0,381.6 188.3,380.0 197.3,376.1" fill="#fff" stroke="#f08848" stroke-width="0.9" stroke-linejoin="miter"/>
<polygon points="208.3,353.9 198.9,345.6 200.0,344.2 194.5,343.7 195.7,349.1 196.9,347.8 206.3,356.1" fill="#fff" stroke="#f08848" stroke-width="0.9" stroke-linejoin="miter"/>
<polygon points="130.9,389.7 123.7,391.7 123.2,390.0 119.8,394.4 125.0,396.3 124.5,394.6 131.7,392.5" fill="#fff" stroke="#9a48c8" stroke-width="0.9" stroke-linejoin="miter"/>
<circle cx="157.3" cy="323" r="1.6" fill="none" stroke="#404040" stroke-width="0.8"/>
<circle cx="192.7" cy="323.5" r="1.6" fill="none" stroke="#404040" stroke-width="0.8"/>
<circle cx="141.5" cy="330.2" r="1.6" fill="none" stroke="#404040" stroke-width="0.8"/>
<circle cx="178.2" cy="334" r="1.6" fill="none" stroke="#404040" stroke-width="0.8"/>
<circle cx="207" cy="334.5" r="1.6" fill="none" stroke="#404040" stroke-width="0.8"/>
<circle cx="161.5" cy="340.2" r="1.6" fill="none" stroke="#404040" stroke-width="0.8"/>
<circle cx="124" cy="353.6" r="1.6" fill="none" stroke="#404040" stroke-width="0.8"/>
<circle cx="107.6" cy="370" r="1.6" fill="none" stroke="#404040" stroke-width="0.8"/>
<circle cx="116" cy="375.5" r="1.6" fill="none" stroke="#404040" stroke-width="0.8"/>
<circle cx="128.7" cy="376" r="1.6" fill="none" stroke="#404040" stroke-width="0.8"/>
<circle cx="124" cy="388.7" r="1.6" fill="none" stroke="#404040" stroke-width="0.8"/>
<circle cx="88.7" cy="394" r="1.6" fill="none" stroke="#404040" stroke-width="0.8"/>
<circle cx="95.5" cy="396.4" r="1.6" fill="none" stroke="#404040" stroke-width="0.8"/>
<circle cx="104" cy="399" r="1.6" fill="none" stroke="#404040" stroke-width="0.8"/>
<circle cx="99.5" cy="401.3" r="1.6" fill="none" stroke="#404040" stroke-width="0.8"/>
<circle cx="107.3" cy="403.6" r="1.6" fill="none" stroke="#404040" stroke-width="0.8"/>
<circle cx="81" cy="406.4" r="1.6" fill="none" stroke="#404040" stroke-width="0.8"/>
<circle cx="110" cy="404.5" r="1.6" fill="none" stroke="#404040" stroke-width="0.8"/>
<circle cx="114.5" cy="407.3" r="1.6" fill="none" stroke="#404040" stroke-width="0.8"/>
<circle cx="125.5" cy="400" r="1.6" fill="none" stroke="#404040" stroke-width="0.8"/>
<circle cx="134.2" cy="402.7" r="1.6" fill="none" stroke="#404040" stroke-width="0.8"/>
<circle cx="197.3" cy="363.3" r="1.6" fill="none" stroke="#404040" stroke-width="0.8"/>
<circle cx="204.5" cy="372.7" r="1.6" fill="none" stroke="#404040" stroke-width="0.8"/>
<circle cx="212.7" cy="373.6" r="1.6" fill="none" stroke="#404040" stroke-width="0.8"/>
<circle cx="157.3" cy="376.4" r="1.6" fill="none" stroke="#404040" stroke-width="0.8"/>
<circle cx="133.6" cy="384" r="1.6" fill="none" stroke="#404040" stroke-width="0.8"/>
<circle cx="170" cy="384.5" r="1.6" fill="none" stroke="#404040" stroke-width="0.8"/>
<circle cx="171.8" cy="385.8" r="1.6" fill="none" stroke="#404040" stroke-width="0.8"/>
<circle cx="191.8" cy="387" r="1.6" fill="none" stroke="#404040" stroke-width="0.8"/>
<circle cx="173.6" cy="389" r="1.6" fill="none" stroke="#404040" stroke-width="0.8"/>
<circle cx="214.5" cy="391" r="1.6" fill="none" stroke="#404040" stroke-width="0.8"/>
<circle cx="131.8" cy="388.2" r="1.6" fill="none" stroke="#404040" stroke-width="0.8"/>
<circle cx="152.7" cy="393" r="1.6" fill="none" stroke="#404040" stroke-width="0.8"/>
<circle cx="143.6" cy="399" r="1.6" fill="none" stroke="#404040" stroke-width="0.8"/>
<circle cx="137.3" cy="399.6" r="1.6" fill="none" stroke="#404040" stroke-width="0.8"/>
<circle cx="173.6" cy="398.2" r="1.6" fill="none" stroke="#404040" stroke-width="0.8"/>
<circle cx="200" cy="398.2" r="1.6" fill="none" stroke="#404040" stroke-width="0.8"/>
<circle cx="200" cy="401.5" r="1.6" fill="none" stroke="#404040" stroke-width="0.8"/>
<circle cx="264" cy="352.7" r="1.6" fill="none" stroke="#404040" stroke-width="0.8"/>
<circle cx="243" cy="360.4" r="1.6" fill="none" stroke="#404040" stroke-width="0.8"/>
<circle cx="248" cy="367" r="1.6" fill="none" stroke="#404040" stroke-width="0.8"/>
<circle cx="243.6" cy="373" r="1.6" fill="none" stroke="#404040" stroke-width="0.8"/>
<circle cx="219" cy="378.5" r="1.6" fill="none" stroke="#404040" stroke-width="0.8"/>
<circle cx="220.5" cy="388.7" r="1.6" fill="none" stroke="#404040" stroke-width="0.8"/>
<circle cx="215" cy="391" r="1.6" fill="none" stroke="#404040" stroke-width="0.8"/>
<circle cx="208" cy="409.5" r="1.6" fill="none" stroke="#404040" stroke-width="0.8"/>
<circle cx="69" cy="419" r="1.6" fill="none" stroke="#404040" stroke-width="0.8"/>
<circle cx="94.5" cy="418.7" r="1.6" fill="none" stroke="#404040" stroke-width="0.8"/>
<circle cx="97.8" cy="418.7" r="1.6" fill="none" stroke="#404040" stroke-width="0.8"/>
<circle cx="103.3" cy="412.7" r="1.6" fill="none" stroke="#404040" stroke-width="0.8"/>
<circle cx="104.5" cy="413.2" r="1.6" fill="none" stroke="#404040" stroke-width="0.8"/>
<circle cx="118.5" cy="411.8" r="1.6" fill="none" stroke="#404040" stroke-width="0.8"/>
<circle cx="99" cy="426.4" r="1.6" fill="none" stroke="#404040" stroke-width="0.8"/>
<circle cx="114.5" cy="407.6" r="1.6" fill="none" stroke="#404040" stroke-width="0.8"/>
<circle cx="50" cy="440.4" r="1.6" fill="none" stroke="#404040" stroke-width="0.8"/>
<circle cx="53" cy="446.4" r="1.6" fill="none" stroke="#404040" stroke-width="0.8"/>
<circle cx="74.5" cy="440.4" r="1.6" fill="none" stroke="#404040" stroke-width="0.8"/>
<circle cx="91" cy="440.4" r="1.6" fill="none" stroke="#404040" stroke-width="0.8"/>
<circle cx="72.4" cy="446.4" r="1.6" fill="none" stroke="#404040" stroke-width="0.8"/>
<circle cx="68.2" cy="448.7" r="1.6" fill="none" stroke="#404040" stroke-width="0.8"/>
<circle cx="85.8" cy="447.8" r="1.6" fill="none" stroke="#404040" stroke-width="0.8"/>
<circle cx="98.5" cy="447.6" r="1.6" fill="none" stroke="#404040" stroke-width="0.8"/>
<circle cx="100" cy="449.2" r="1.6" fill="none" stroke="#404040" stroke-width="0.8"/>
<circle cx="104" cy="445.5" r="1.6" fill="none" stroke="#404040" stroke-width="0.8"/>
<circle cx="116.4" cy="444" r="1.6" fill="none" stroke="#404040" stroke-width="0.8"/>
<circle cx="116" cy="432.4" r="1.6" fill="none" stroke="#404040" stroke-width="0.8"/>
<circle cx="121.8" cy="433" r="1.6" fill="none" stroke="#404040" stroke-width="0.8"/>
<circle cx="131" cy="438.2" r="1.6" fill="none" stroke="#404040" stroke-width="0.8"/>
<circle cx="132.7" cy="441.8" r="1.6" fill="none" stroke="#404040" stroke-width="0.8"/>
<circle cx="136.4" cy="445" r="1.6" fill="none" stroke="#404040" stroke-width="0.8"/>
<circle cx="134.5" cy="449" r="1.6" fill="none" stroke="#404040" stroke-width="0.8"/>
<circle cx="201" cy="401.8" r="1.6" fill="none" stroke="#404040" stroke-width="0.8"/>
<circle cx="134.5" cy="403.3" r="1.6" fill="none" stroke="#404040" stroke-width="0.8"/>
<circle cx="147.3" cy="411.3" r="1.6" fill="none" stroke="#404040" stroke-width="0.8"/>
<circle cx="158.7" cy="411.3" r="1.6" fill="none" stroke="#404040" stroke-width="0.8"/>
<circle cx="137" cy="415" r="1.6" fill="none" stroke="#404040" stroke-width="0.8"/>
<circle cx="127.3" cy="416.4" r="1.6" fill="none" stroke="#404040" stroke-width="0.8"/>
<circle cx="175" cy="417.8" r="1.6" fill="none" stroke="#404040" stroke-width="0.8"/>
<circle cx="199" cy="417" r="1.6" fill="none" stroke="#404040" stroke-width="0.8"/>
<circle cx="208.7" cy="410.5" r="1.6" fill="none" stroke="#404040" stroke-width="0.8"/>
<circle cx="148.2" cy="421.5" r="1.6" fill="none" stroke="#404040" stroke-width="0.8"/>
<circle cx="161" cy="425" r="1.6" fill="none" stroke="#404040" stroke-width="0.8"/>
<circle cx="174.2" cy="423.6" r="1.6" fill="none" stroke="#404040" stroke-width="0.8"/>
<circle cx="158.2" cy="429" r="1.6" fill="none" stroke="#404040" stroke-width="0.8"/>
<circle cx="202.7" cy="429" r="1.6" fill="none" stroke="#404040" stroke-width="0.8"/>
<circle cx="171.5" cy="430.5" r="1.6" fill="none" stroke="#404040" stroke-width="0.8"/>
<circle cx="182.7" cy="431" r="1.6" fill="none" stroke="#404040" stroke-width="0.8"/>
<circle cx="143.6" cy="431.3" r="1.6" fill="none" stroke="#404040" stroke-width="0.8"/>
<circle cx="162.2" cy="434.2" r="1.6" fill="none" stroke="#404040" stroke-width="0.8"/>
<circle cx="175.8" cy="433.8" r="1.6" fill="none" stroke="#404040" stroke-width="0.8"/>
<circle cx="186.4" cy="434.5" r="1.6" fill="none" stroke="#404040" stroke-width="0.8"/>
<circle cx="210.4" cy="432.7" r="1.6" fill="none" stroke="#404040" stroke-width="0.8"/>
<circle cx="196" cy="450" r="1.6" fill="none" stroke="#404040" stroke-width="0.8"/>
<circle cx="121.5" cy="432.7" r="1.6" fill="none" stroke="#404040" stroke-width="0.8"/>
<circle cx="275.5" cy="413.6" r="1.6" fill="none" stroke="#404040" stroke-width="0.8"/>
<circle cx="203" cy="429" r="1.6" fill="none" stroke="#404040" stroke-width="0.8"/>
<text x="146" y="318.5" font-family="'Liberation Sans', sans-serif" font-size="4.3" font-style="italic" fill="#808080">P053</text>
<text x="180" y="318.5" font-family="'Liberation Sans', sans-serif" font-size="4.3" font-style="italic" fill="#808080">P099</text>
<text x="139" y="336.2" font-family="'Liberation Sans', sans-serif" font-size="4.3" font-style="italic" fill="#808080">P051-40</text>
<text x="169" y="330" font-family="'Liberation Sans', sans-serif" font-size="4.3" font-style="italic" fill="#808080">P098</text>
<text x="192.7" y="335" font-family="'Liberation Sans', sans-serif" font-size="4.3" font-style="italic" fill="#808080">P097</text>
<text x="165.5" y="343.6" font-family="'Liberation Sans', sans-serif" font-size="4.3" font-style="italic" fill="#808080">P052</text>
<text x="117" y="349" font-family="'Liberation Sans', sans-serif" font-size="4.3" font-style="italic" fill="#808080">P051-20</text>
<text x="109" y="368" font-family="'Liberation Sans', sans-serif" font-size="4.3" font-style="italic" fill="#808080">P068-5</text>
<text x="101" y="376.6" font-family="'Liberation Sans', sans-serif" font-size="4.3" font-style="italic" fill="#808080">P037</text>
<text x="125.5" y="373" font-family="'Liberation Sans', sans-serif" font-size="4.3" font-style="italic" fill="#808080">P061</text>
<text x="112.7" y="391.6" font-family="'Liberation Sans', sans-serif" font-size="4.3" font-style="italic" fill="#808080">P065</text>
<text x="71.8" y="395" font-family="'Liberation Sans', sans-serif" font-size="4.3" font-style="italic" fill="#808080">P050-68</text>
<text x="94.5" y="393.6" font-family="'Liberation Sans', sans-serif" font-size="4.3" font-style="italic" fill="#808080">P032</text>
<text x="101.8" y="398.3" font-family="'Liberation Sans', sans-serif" font-size="4.3" font-style="italic" fill="#808080">P030-5</text>
<text x="84.5" y="400.6" font-family="'Liberation Sans', sans-serif" font-size="4.3" font-style="italic" fill="#808080">P030-1</text>
<text x="69" y="408.6" font-family="'Liberation Sans', sans-serif" font-size="4.3" font-style="italic" fill="#808080">P035</text>
<text x="126.4" y="409" font-family="'Liberation Sans', sans-serif" font-size="4.3" font-style="italic" fill="#808080">P031</text>
<text x="201.8" y="361.6" font-family="'Liberation Sans', sans-serif" font-size="4.3" font-style="italic" fill="#808080">P056</text>
<text x="192.7" y="371.6" font-family="'Liberation Sans', sans-serif" font-size="4.3" font-style="italic" fill="#808080">P063</text>
<text x="210" y="370.6" font-family="'Liberation Sans', sans-serif" font-size="4.3" font-style="italic" fill="#808080">P067</text>
<text x="146" y="380" font-family="'Liberation Sans', sans-serif" font-size="4.3" font-style="italic" fill="#808080">P066</text>
<text x="137.3" y="384.6" font-family="'Liberation Sans', sans-serif" font-size="4.3" font-style="italic" fill="#808080">P037</text>
<text x="151" y="386.6" font-family="'Liberation Sans', sans-serif" font-size="4.3" font-style="italic" fill="#808080">P066-A</text>
<text x="169" y="380.6" font-family="'Liberation Sans', sans-serif" font-size="4.3" font-style="italic" fill="#808080">P072</text>
<text x="180" y="386.6" font-family="'Liberation Sans', sans-serif" font-size="4.3" font-style="italic" fill="#808080">P048</text>
<text x="176" y="393.6" font-family="'Liberation Sans', sans-serif" font-size="4.3" font-style="italic" fill="#808080">P071</text>
<text x="155" y="393.1" font-family="'Liberation Sans', sans-serif" font-size="4.3" font-style="italic" fill="#808080">P076-10</text>
<text x="157" y="398.6" font-family="'Liberation Sans', sans-serif" font-size="4.3" font-style="italic" fill="#808080">P058</text>
<text x="187" y="401" font-family="'Liberation Sans', sans-serif" font-size="4.3" font-style="italic" fill="#808080">P027</text>
<text x="134" y="393.1" font-family="'Liberation Sans', sans-serif" font-size="4.3" font-style="italic" fill="#808080">P065-8</text>
<text x="140" y="398.6" font-family="'Liberation Sans', sans-serif" font-size="4.3" font-style="italic" fill="#808080">P038</text>
<text x="138" y="404.6" font-family="'Liberation Sans', sans-serif" font-size="4.3" font-style="italic" fill="#808080">P033</text>
<text x="251.8" y="353.6" font-family="'Liberation Sans', sans-serif" font-size="4.3" font-style="italic" fill="#808080">P060</text>
<text x="228.2" y="362.6" font-family="'Liberation Sans', sans-serif" font-size="4.3" font-style="italic" fill="#808080">P075</text>
<text x="253.6" y="368.6" font-family="'Liberation Sans', sans-serif" font-size="4.3" font-style="italic" fill="#808080">P059</text>
<text x="228.2" y="374.9" font-family="'Liberation Sans', sans-serif" font-size="4.3" font-style="italic" fill="#808080">P080</text>
<text x="203.6" y="382" font-family="'Liberation Sans', sans-serif" font-size="4.3" font-style="italic" fill="#808080">P074</text>
<text x="224.5" y="382" font-family="'Liberation Sans', sans-serif" font-size="4.3" font-style="italic" fill="#808080">P022</text>
<text x="224.5" y="390.3" font-family="'Liberation Sans', sans-serif" font-size="4.3" font-style="italic" fill="#808080">P017</text>
<text x="213.6" y="398.3" font-family="'Liberation Sans', sans-serif" font-size="4.3" font-style="italic" fill="#808080">P070</text>
<text x="203.6" y="404.9" font-family="'Liberation Sans', sans-serif" font-size="4.3" font-style="italic" fill="#808080">P028</text>
<text x="54.5" y="420.6" font-family="'Liberation Sans', sans-serif" font-size="4.3" font-style="italic" fill="#808080">P049</text>
<text x="81" y="419.8" font-family="'Liberation Sans', sans-serif" font-size="4.3" font-style="italic" fill="#808080">P054</text>
<text x="91" y="414.3" font-family="'Liberation Sans', sans-serif" font-size="4.3" font-style="italic" fill="#808080">P034</text>
<text x="107.3" y="417.1" font-family="'Liberation Sans', sans-serif" font-size="4.3" font-style="italic" fill="#808080">P047</text>
<text x="101.8" y="427.1" font-family="'Liberation Sans', sans-serif" font-size="4.3" font-style="italic" fill="#808080">P046</text>
<text x="101" y="421.2" font-family="'Liberation Sans', sans-serif" font-size="4.3" font-style="italic" fill="#808080">P123</text>
<text x="47.3" y="436.1" font-family="'Liberation Sans', sans-serif" font-size="4.3" font-style="italic" fill="#808080">P025</text>
<text x="45.5" y="451.6" font-family="'Liberation Sans', sans-serif" font-size="4.3" font-style="italic" fill="#808080">P020</text>
<text x="66.4" y="437.1" font-family="'Liberation Sans', sans-serif" font-size="4.3" font-style="italic" fill="#808080">P037</text>
<text x="86.4" y="437.1" font-family="'Liberation Sans', sans-serif" font-size="4.3" font-style="italic" fill="#808080">P043</text>
<text x="73.6" y="446.6" font-family="'Liberation Sans', sans-serif" font-size="4.3" font-style="italic" fill="#808080">P014</text>
<text x="61.8" y="455.8" font-family="'Liberation Sans', sans-serif" font-size="4.3" font-style="italic" fill="#808080">P010</text>
<text x="79" y="452.9" font-family="'Liberation Sans', sans-serif" font-size="4.3" font-style="italic" fill="#808080">P013</text>
<text x="89" y="446.6" font-family="'Liberation Sans', sans-serif" font-size="4.3" font-style="italic" fill="#808080">P005</text>
<text x="99" y="443.4" font-family="'Liberation Sans', sans-serif" font-size="4.3" font-style="italic" fill="#808080">P006</text>
<text x="102.7" y="454.3" font-family="'Liberation Sans', sans-serif" font-size="4.3" font-style="italic" fill="#808080">P045</text>
<text x="118" y="448" font-family="'Liberation Sans', sans-serif" font-size="4.3" font-style="italic" fill="#808080">P007</text>
<text x="125.5" y="430.3" font-family="'Liberation Sans', sans-serif" font-size="4.3" font-style="italic" fill="#808080">P104</text>
<text x="128.2" y="435.2" font-family="'Liberation Sans', sans-serif" font-size="4.3" font-style="italic" fill="#808080">P019</text>
<text x="136.4" y="443.4" font-family="'Liberation Sans', sans-serif" font-size="4.3" font-style="italic" fill="#808080">P042</text>
<text x="143.6" y="448.5" font-family="'Liberation Sans', sans-serif" font-size="4.3" font-style="italic" fill="#808080">P008</text>
<text x="135.5" y="455.6" font-family="'Liberation Sans', sans-serif" font-size="4.3" font-style="italic" fill="#808080">P002</text>
<text x="149" y="417.1" font-family="'Liberation Sans', sans-serif" font-size="4.3" font-style="italic" fill="#808080">P079</text>
<text x="161.8" y="414.6" font-family="'Liberation Sans', sans-serif" font-size="4.3" font-style="italic" fill="#808080">P073</text>
<text x="133.6" y="419.8" font-family="'Liberation Sans', sans-serif" font-size="4.3" font-style="italic" fill="#808080">P012</text>
<text x="179" y="417.6" font-family="'Liberation Sans', sans-serif" font-size="4.3" font-style="italic" fill="#808080">P076</text>
<text x="203.6" y="418.9" font-family="'Liberation Sans', sans-serif" font-size="4.3" font-style="italic" fill="#808080">P041</text>
<text x="135.5" y="424.9" font-family="'Liberation Sans', sans-serif" font-size="4.3" font-style="italic" fill="#808080">P044</text>
<text x="157.3" y="422.6" font-family="'Liberation Sans', sans-serif" font-size="4.3" font-style="italic" fill="#808080">P069</text>
<text x="179" y="424.3" font-family="'Liberation Sans', sans-serif" font-size="4.3" font-style="italic" fill="#808080">P064</text>
<text x="145.5" y="427.6" font-family="'Liberation Sans', sans-serif" font-size="4.3" font-style="italic" fill="#808080">P015</text>
<text x="163.6" y="428.9" font-family="'Liberation Sans', sans-serif" font-size="4.3" font-style="italic" fill="#808080">P020</text>
<text x="186.4" y="429.8" font-family="'Liberation Sans', sans-serif" font-size="4.3" font-style="italic" fill="#808080">P026</text>
<text x="155.5" y="440.1" font-family="'Liberation Sans', sans-serif" font-size="4.3" font-style="italic" fill="#808080">P024</text>
<text x="171.8" y="440.1" font-family="'Liberation Sans', sans-serif" font-size="4.3" font-style="italic" fill="#808080">P018</text>
<text x="185.5" y="439.8" font-family="'Liberation Sans', sans-serif" font-size="4.3" font-style="italic" fill="#808080">P009</text>
<text x="196.4" y="435.2" font-family="'Liberation Sans', sans-serif" font-size="4.3" font-style="italic" fill="#808080">P011</text>
<text x="143.6" y="436.1" font-family="'Liberation Sans', sans-serif" font-size="4.3" font-style="italic" fill="#808080">P003</text>
<text x="183.6" y="451.6" font-family="'Liberation Sans', sans-serif" font-size="4.3" font-style="italic" fill="#808080">P016</text>
<text x="211.8" y="412" font-family="'Liberation Sans', sans-serif" font-size="4.3" font-style="italic" fill="#808080">P029</text>
<text x="262.7" y="412.1" font-family="'Liberation Sans', sans-serif" font-size="4.3" font-style="italic" fill="#808080">P001</text>
<text x="213.6" y="434.3" font-family="'Liberation Sans', sans-serif" font-size="4.3" font-style="italic" fill="#808080">P023</text>
<rect x="90.7" y="298.5" width="3.4" height="3.4" fill="#fff" stroke="#333" stroke-width="0.7"/>
<rect x="95.6" y="347.90000000000003" width="3.4" height="3.4" fill="#fff" stroke="#333" stroke-width="0.7"/>
<rect x="93.8" y="361.6" width="3.4" height="3.4" fill="#fff" stroke="#333" stroke-width="0.7"/>
<rect x="94.7" y="448.8" width="3.4" height="3.4" fill="#fff" stroke="#333" stroke-width="0.7"/>
<rect x="119.5" y="355.2" width="3.6" height="3.6" fill="#9a8e8a" stroke="#e8553a" stroke-width="0.8"/>
<rect x="119.5" y="382.4" width="3.6" height="3.6" fill="#9a8e8a" stroke="#e8553a" stroke-width="0.8"/>
<rect x="120.9" y="401.8" width="3.6" height="3.6" fill="#9a8e8a" stroke="#e8553a" stroke-width="0.8"/>
<rect x="112.4" y="440.9" width="3.6" height="3.6" fill="#9a8e8a" stroke="#e8553a" stroke-width="0.8"/>
<rect x="160.0" y="403.2" width="3.6" height="3.6" fill="#9a8e8a" stroke="#e8553a" stroke-width="0.8"/>
<rect x="174.2" y="405.5" width="3.6" height="3.6" fill="#9a8e8a" stroke="#e8553a" stroke-width="0.8"/>
<text x="72.4" y="295.8" font-family="'Liberation Sans', sans-serif" font-size="5.2" fill="#333">MAS-017</text>
<text x="89" y="347.2" font-family="'Liberation Sans', sans-serif" font-size="5.2" fill="#333">MF</text>
<text x="83.6" y="366.2" font-family="'Liberation Sans', sans-serif" font-size="5.2" fill="#333">MS</text>
<text x="92.7" y="458.2" font-family="'Liberation Sans', sans-serif" font-size="5.2" fill="#333">VP</text>
<text x="126.5" y="361" font-family="'Liberation Sans', sans-serif" font-size="5.4" fill="#e8553a">MAS-017</text>
<text x="110.5" y="383.6" font-family="'Liberation Sans', sans-serif" font-size="5.4" fill="#e8553a">MF</text>
<text x="113.8" y="403" font-family="'Liberation Sans', sans-serif" font-size="5.4" fill="#e8553a">MS</text>
<text x="117.8" y="440" font-family="'Liberation Sans', sans-serif" font-size="5.4" fill="#e8553a">VP</text>
<text x="163.5" y="404" font-family="'Liberation Sans', sans-serif" font-size="5.4" fill="#e8553a">Cascandola</text>
<text x="180" y="410.3" font-family="'Liberation Sans', sans-serif" font-size="5.4" fill="#e8553a">Amola</text>
<text x="121" y="294.8" font-family="'Liberation Sans', sans-serif" font-size="10" font-weight="bold" fill="#e8472c" text-anchor="middle">A</text>
<text x="123.6" y="460.5" font-family="'Liberation Sans', sans-serif" font-size="10" font-weight="bold" fill="#4a78c4" text-anchor="middle">B</text>
<text x="271.8" y="380.2" font-family="'Liberation Sans', sans-serif" font-size="10" font-weight="bold" fill="#f08848" text-anchor="middle">C</text>
<text x="229.5" y="429.4" font-family="'Liberation Sans', sans-serif" font-size="10" font-weight="bold" fill="#f6b443" text-anchor="middle">D</text>
<text x="75" y="333.5" font-family="'Liberation Sans', sans-serif" font-size="9.5" font-weight="bold" fill="#8a36b8">M<tspan font-size="6" dy="2">1</tspan></text>
<text x="148.5" y="305.5" font-family="'Liberation Sans', sans-serif" font-size="9.5" font-weight="bold" fill="#7ec24a">M<tspan font-size="6" dy="2">2</tspan></text>
<text x="166.5" y="376.5" font-family="'Liberation Sans', sans-serif" font-size="9.5" font-weight="bold" fill="#2fa84f">M<tspan font-size="6" dy="2">3</tspan></text>
<circle cx="222.7" cy="286.8" r="1.5" fill="none" stroke="#333" stroke-width="0.8"/>
<rect x="221" y="295.9" width="3.4" height="3.4" fill="#fff" stroke="#333" stroke-width="0.7"/>
<rect x="221" y="307.2" width="3.4" height="3.4" fill="#9a8e8a" stroke="#e8553a" stroke-width="0.8"/>
<text x="227" y="288.8" font-family="'Liberation Sans', sans-serif" font-size="6.4" fill="#333">Well May-Jun'04</text>
<text x="227" y="299.9" font-family="'Liberation Sans', sans-serif" font-size="6.4" fill="#333">River May-Jun'04</text>
<text x="227" y="311.2" font-family="'Liberation Sans', sans-serif" font-size="6.4" fill="#333">River Oct-Nov'05</text>
<rect x="308.5" y="307.3" width="234.5" height="169.2" fill="#fdfdfc" stroke="#d8d8d8" stroke-width="1"/>
<line x1="338" y1="326.8" x2="338" y2="446.2" stroke="#a8a8a8" stroke-width="0.6"/>
<line x1="338" y1="446.2" x2="527" y2="446.2" stroke="#a8a8a8" stroke-width="0.6"/>
<line x1="336" y1="446.20" x2="338" y2="446.20" stroke="#a8a8a8" stroke-width="0.5"/>
<text x="333.5" y="448.10" font-family="'Liberation Sans', sans-serif" font-size="5.4" text-anchor="end" fill="#404040">0</text>
<line x1="336" y1="432.93" x2="338" y2="432.93" stroke="#a8a8a8" stroke-width="0.5"/>
<text x="333.5" y="434.83" font-family="'Liberation Sans', sans-serif" font-size="5.4" text-anchor="end" fill="#404040">20</text>
<line x1="336" y1="419.66" x2="338" y2="419.66" stroke="#a8a8a8" stroke-width="0.5"/>
<text x="333.5" y="421.56" font-family="'Liberation Sans', sans-serif" font-size="5.4" text-anchor="end" fill="#404040">40</text>
<line x1="336" y1="406.39" x2="338" y2="406.39" stroke="#a8a8a8" stroke-width="0.5"/>
<text x="333.5" y="408.29" font-family="'Liberation Sans', sans-serif" font-size="5.4" text-anchor="end" fill="#404040">60</text>
<line x1="336" y1="393.12" x2="338" y2="393.12" stroke="#a8a8a8" stroke-width="0.5"/>
<text x="333.5" y="395.02" font-family="'Liberation Sans', sans-serif" font-size="5.4" text-anchor="end" fill="#404040">80</text>
<line x1="336" y1="379.85" x2="338" y2="379.85" stroke="#a8a8a8" stroke-width="0.5"/>
<text x="333.5" y="381.75" font-family="'Liberation Sans', sans-serif" font-size="5.4" text-anchor="end" fill="#404040">100</text>
<line x1="336" y1="366.58" x2="338" y2="366.58" stroke="#a8a8a8" stroke-width="0.5"/>
<text x="333.5" y="368.48" font-family="'Liberation Sans', sans-serif" font-size="5.4" text-anchor="end" fill="#404040">120</text>
<line x1="336" y1="353.31" x2="338" y2="353.31" stroke="#a8a8a8" stroke-width="0.5"/>
<text x="333.5" y="355.21" font-family="'Liberation Sans', sans-serif" font-size="5.4" text-anchor="end" fill="#404040">140</text>
<line x1="336" y1="340.04" x2="338" y2="340.04" stroke="#a8a8a8" stroke-width="0.5"/>
<text x="333.5" y="341.94" font-family="'Liberation Sans', sans-serif" font-size="5.4" text-anchor="end" fill="#404040">160</text>
<line x1="336" y1="326.77" x2="338" y2="326.77" stroke="#a8a8a8" stroke-width="0.5"/>
<text x="333.5" y="328.67" font-family="'Liberation Sans', sans-serif" font-size="5.4" text-anchor="end" fill="#404040">180</text>
<line x1="338.30" y1="446.2" x2="338.30" y2="448.2" stroke="#a8a8a8" stroke-width="0.5"/>
<text transform="translate(340.30,449.5) rotate(-90)" font-family="'Liberation Sans', sans-serif" font-size="5.4" text-anchor="end" fill="#404040">24-May-02</text>
<line x1="359.27" y1="446.2" x2="359.27" y2="448.2" stroke="#a8a8a8" stroke-width="0.5"/>
<text transform="translate(361.27,449.5) rotate(-90)" font-family="'Liberation Sans', sans-serif" font-size="5.4" text-anchor="end" fill="#404040">10-Dec-02</text>
<line x1="380.24" y1="446.2" x2="380.24" y2="448.2" stroke="#a8a8a8" stroke-width="0.5"/>
<text transform="translate(382.24,449.5) rotate(-90)" font-family="'Liberation Sans', sans-serif" font-size="5.4" text-anchor="end" fill="#404040">28-Jun-03</text>
<line x1="401.21" y1="446.2" x2="401.21" y2="448.2" stroke="#a8a8a8" stroke-width="0.5"/>
<text transform="translate(403.21,449.5) rotate(-90)" font-family="'Liberation Sans', sans-serif" font-size="5.4" text-anchor="end" fill="#404040">14-Jan-04</text>
<line x1="422.18" y1="446.2" x2="422.18" y2="448.2" stroke="#a8a8a8" stroke-width="0.5"/>
<text transform="translate(424.18,449.5) rotate(-90)" font-family="'Liberation Sans', sans-serif" font-size="5.4" text-anchor="end" fill="#404040">1-Aug-04</text>
<line x1="443.15" y1="446.2" x2="443.15" y2="448.2" stroke="#a8a8a8" stroke-width="0.5"/>
<text transform="translate(445.15,449.5) rotate(-90)" font-family="'Liberation Sans', sans-serif" font-size="5.4" text-anchor="end" fill="#404040">17-Feb-05</text>
<line x1="464.12" y1="446.2" x2="464.12" y2="448.2" stroke="#a8a8a8" stroke-width="0.5"/>
<text transform="translate(466.12,449.5) rotate(-90)" font-family="'Liberation Sans', sans-serif" font-size="5.4" text-anchor="end" fill="#404040">5-Sept-05</text>
<line x1="485.09" y1="446.2" x2="485.09" y2="448.2" stroke="#a8a8a8" stroke-width="0.5"/>
<text transform="translate(487.09,449.5) rotate(-90)" font-family="'Liberation Sans', sans-serif" font-size="5.4" text-anchor="end" fill="#404040">24-Mar-06</text>
<line x1="506.06" y1="446.2" x2="506.06" y2="448.2" stroke="#a8a8a8" stroke-width="0.5"/>
<text transform="translate(508.06,449.5) rotate(-90)" font-family="'Liberation Sans', sans-serif" font-size="5.4" text-anchor="end" fill="#404040">10-Oct-06</text>
<line x1="527.03" y1="446.2" x2="527.03" y2="448.2" stroke="#a8a8a8" stroke-width="0.5"/>
<text transform="translate(529.03,449.5) rotate(-90)" font-family="'Liberation Sans', sans-serif" font-size="5.4" text-anchor="end" fill="#404040">28-Apr-07</text>
<text transform="translate(317,385) rotate(-90)" font-family="'Liberation Sans', sans-serif" font-size="7.2" font-weight="bold" text-anchor="middle" fill="#262626">SO<tspan font-size="4.8" dy="1.6">4</tspan><tspan dy="-1.6"> (mg/L)</tspan></text>
<path d="M363.00,401.50 C364.60,404.82 370.85,419.73 372.60,421.40 C374.35,423.07 373.02,418.32 373.50,411.50 C373.98,404.68 374.67,388.32 375.50,380.50 C376.33,372.68 377.45,369.63 378.50,364.60 C379.55,359.57 380.88,353.32 381.80,350.30 C382.72,347.28 382.88,343.38 384.00,346.50 C385.12,349.62 387.28,361.42 388.50,369.00 C389.72,376.58 390.28,385.82 391.30,392.00 C392.32,398.18 393.65,399.98 394.60,406.10 C395.55,412.22 395.70,427.90 397.00,428.70 C398.30,429.50 401.05,411.15 402.40,410.90 C403.75,410.65 404.13,424.55 405.10,427.20 C406.07,429.85 407.12,427.98 408.20,426.80 C409.28,425.62 410.52,424.32 411.60,420.10 C412.68,415.88 413.92,408.02 414.70,401.50 C415.48,394.98 415.78,384.23 416.30,381.00 C416.82,377.77 417.17,384.30 417.80,382.10 C418.43,379.90 419.05,370.25 420.10,367.80 C421.15,365.35 422.87,365.72 424.10,367.40 C425.33,369.08 426.35,371.23 427.50,377.90 C428.65,384.57 429.98,403.55 431.00,407.40 C432.02,411.25 432.78,401.18 433.60,401.00 C434.42,400.82 434.50,409.10 435.90,406.30 C437.30,403.50 440.33,385.00 442.00,384.20 C443.67,383.40 444.90,400.45 445.90,401.50 C446.90,402.55 446.95,390.92 448.00,390.50 C449.05,390.08 450.90,404.43 452.20,399.00 C453.50,393.57 454.67,367.38 455.80,357.90 C456.93,348.42 458.23,344.92 459.00,342.10 C459.77,339.28 459.00,334.85 460.40,341.00 C461.80,347.15 465.60,371.17 467.40,379.00 C469.20,386.83 470.33,386.25 471.20,388.00 C472.07,389.75 472.02,386.97 472.60,389.50 C473.18,392.03 473.75,396.65 474.70,403.20 C475.65,409.75 477.07,427.75 478.30,428.80 C479.53,429.85 481.02,410.97 482.10,409.50 C483.18,408.03 483.75,422.12 484.80,420.00 C485.85,417.88 487.70,400.13 488.40,396.80 C489.10,393.47 488.20,406.13 489.00,400.00 C489.80,393.87 491.95,368.83 493.20,360.00 C494.45,351.17 495.22,347.75 496.50,347.00 C497.78,346.25 499.65,350.75 500.90,355.50 C502.15,360.25 502.93,366.15 504.00,375.50 C505.07,384.85 506.18,404.25 507.30,411.60 C508.42,418.95 509.77,417.70 510.70,419.60 C511.63,421.50 512.53,422.43 512.90,423.00" fill="none" stroke="#4a6cc0" stroke-width="1.4" stroke-dasharray="2.6,1.3"/>
<path d="M364.20,409.60 C366.65,406.98 374.85,402.67 378.90,393.90 C382.95,385.13 384.00,354.53 388.50,357.00 C393.00,359.47 401.27,398.73 405.90,408.70 C410.53,418.67 412.82,425.87 416.30,416.80 C419.78,407.73 424.52,363.77 426.80,354.30 C429.08,344.83 429.05,356.83 430.00,360.00 C430.95,363.17 430.82,366.53 432.50,373.30 C434.18,380.07 437.80,396.85 440.10,400.60 C442.40,404.35 444.38,396.07 446.30,395.80 C448.22,395.53 449.92,398.83 451.60,399.00 C453.28,399.17 454.20,402.77 456.40,396.80 C458.60,390.83 461.98,365.12 464.80,363.20 C467.62,361.28 470.23,378.28 473.30,385.30 C476.37,392.32 480.85,401.45 483.20,405.30 C485.55,409.15 485.90,408.33 487.40,408.40 C488.90,408.47 490.85,410.28 492.20,405.70 C493.55,401.12 494.42,387.40 495.50,380.90 C496.58,374.40 497.18,368.05 498.70,366.70 C500.22,365.35 502.60,371.33 504.60,372.80 C506.60,374.27 509.68,375.05 510.70,375.50" fill="none" stroke="#2fb040" stroke-width="1.4" stroke-dasharray="2.6,1.3"/>
<path d="M363,399.4 L365.1,401.5 L363,403.6 L360.9,401.5 Z" fill="#4a6cc0"/>
<path d="M372.6,419.29999999999995 L374.70000000000005,421.4 L372.6,423.5 L370.5,421.4 Z" fill="#4a6cc0"/>
<path d="M373.5,409.4 L375.6,411.5 L373.5,413.6 L371.4,411.5 Z" fill="#4a6cc0"/>
<path d="M375.5,378.4 L377.6,380.5 L375.5,382.6 L373.4,380.5 Z" fill="#4a6cc0"/>
<path d="M378.5,362.5 L380.6,364.6 L378.5,366.70000000000005 L376.4,364.6 Z" fill="#4a6cc0"/>
<path d="M381.8,348.2 L383.90000000000003,350.3 L381.8,352.40000000000003 L379.7,350.3 Z" fill="#4a6cc0"/>
<path d="M384,344.4 L386.1,346.5 L384,348.6 L381.9,346.5 Z" fill="#4a6cc0"/>
<path d="M388.5,366.9 L390.6,369 L388.5,371.1 L386.4,369 Z" fill="#4a6cc0"/>
<path d="M391.3,389.9 L393.40000000000003,392 L391.3,394.1 L389.2,392 Z" fill="#4a6cc0"/>
<path d="M394.6,404.0 L396.70000000000005,406.1 L394.6,408.20000000000005 L392.5,406.1 Z" fill="#4a6cc0"/>
<path d="M397,426.59999999999997 L399.1,428.7 L397,430.8 L394.9,428.7 Z" fill="#4a6cc0"/>
<path d="M402.4,408.79999999999995 L404.5,410.9 L402.4,413.0 L400.29999999999995,410.9 Z" fill="#4a6cc0"/>
<path d="M405.1,425.09999999999997 L407.20000000000005,427.2 L405.1,429.3 L403.0,427.2 Z" fill="#4a6cc0"/>
<path d="M408.2,424.7 L410.3,426.8 L408.2,428.90000000000003 L406.09999999999997,426.8 Z" fill="#4a6cc0"/>
<path d="M411.6,418.0 L413.70000000000005,420.1 L411.6,422.20000000000005 L409.5,420.1 Z" fill="#4a6cc0"/>
<path d="M414.7,399.4 L416.8,401.5 L414.7,403.6 L412.59999999999997,401.5 Z" fill="#4a6cc0"/>
<path d="M416.3,378.9 L418.40000000000003,381 L416.3,383.1 L414.2,381 Z" fill="#4a6cc0"/>
<path d="M417.8,380.0 L419.90000000000003,382.1 L417.8,384.20000000000005 L415.7,382.1 Z" fill="#4a6cc0"/>
<path d="M420.1,365.7 L422.20000000000005,367.8 L420.1,369.90000000000003 L418.0,367.8 Z" fill="#4a6cc0"/>
<path d="M424.1,365.29999999999995 L426.20000000000005,367.4 L424.1,369.5 L422.0,367.4 Z" fill="#4a6cc0"/>
<path d="M427.5,375.79999999999995 L429.6,377.9 L427.5,380.0 L425.4,377.9 Z" fill="#4a6cc0"/>
<path d="M431,405.29999999999995 L433.1,407.4 L431,409.5 L428.9,407.4 Z" fill="#4a6cc0"/>
<path d="M433.6,398.9 L435.70000000000005,401 L433.6,403.1 L431.5,401 Z" fill="#4a6cc0"/>
<path d="M435.9,404.2 L438.0,406.3 L435.9,408.40000000000003 L433.79999999999995,406.3 Z" fill="#4a6cc0"/>
<path d="M442,382.09999999999997 L444.1,384.2 L442,386.3 L439.9,384.2 Z" fill="#4a6cc0"/>
<path d="M445.9,399.4 L448.0,401.5 L445.9,403.6 L443.79999999999995,401.5 Z" fill="#4a6cc0"/>
<path d="M448,388.4 L450.1,390.5 L448,392.6 L445.9,390.5 Z" fill="#4a6cc0"/>
<path d="M452.2,396.9 L454.3,399 L452.2,401.1 L450.09999999999997,399 Z" fill="#4a6cc0"/>
<path d="M455.8,355.79999999999995 L457.90000000000003,357.9 L455.8,360.0 L453.7,357.9 Z" fill="#4a6cc0"/>
<path d="M459,340.0 L461.1,342.1 L459,344.20000000000005 L456.9,342.1 Z" fill="#4a6cc0"/>
<path d="M460.4,338.9 L462.5,341 L460.4,343.1 L458.29999999999995,341 Z" fill="#4a6cc0"/>
<path d="M467.4,376.9 L469.5,379 L467.4,381.1 L465.29999999999995,379 Z" fill="#4a6cc0"/>
<path d="M471.2,385.9 L473.3,388 L471.2,390.1 L469.09999999999997,388 Z" fill="#4a6cc0"/>
<path d="M472.6,387.4 L474.70000000000005,389.5 L472.6,391.6 L470.5,389.5 Z" fill="#4a6cc0"/>
<path d="M474.7,401.09999999999997 L476.8,403.2 L474.7,405.3 L472.59999999999997,403.2 Z" fill="#4a6cc0"/>
<path d="M478.3,426.7 L480.40000000000003,428.8 L478.3,430.90000000000003 L476.2,428.8 Z" fill="#4a6cc0"/>
<path d="M482.1,407.4 L484.20000000000005,409.5 L482.1,411.6 L480.0,409.5 Z" fill="#4a6cc0"/>
<path d="M484.8,417.9 L486.90000000000003,420 L484.8,422.1 L482.7,420 Z" fill="#4a6cc0"/>
<path d="M488.4,394.7 L490.5,396.8 L488.4,398.90000000000003 L486.29999999999995,396.8 Z" fill="#4a6cc0"/>
<path d="M489,397.9 L491.1,400 L489,402.1 L486.9,400 Z" fill="#4a6cc0"/>
<path d="M493.2,357.9 L495.3,360 L493.2,362.1 L491.09999999999997,360 Z" fill="#4a6cc0"/>
<path d="M496.5,344.9 L498.6,347 L496.5,349.1 L494.4,347 Z" fill="#4a6cc0"/>
<path d="M500.9,353.4 L503.0,355.5 L500.9,357.6 L498.79999999999995,355.5 Z" fill="#4a6cc0"/>
<path d="M504,373.4 L506.1,375.5 L504,377.6 L501.9,375.5 Z" fill="#4a6cc0"/>
<path d="M507.3,409.5 L509.40000000000003,411.6 L507.3,413.70000000000005 L505.2,411.6 Z" fill="#4a6cc0"/>
<path d="M510.7,417.5 L512.8,419.6 L510.7,421.70000000000005 L508.59999999999997,419.6 Z" fill="#4a6cc0"/>
<path d="M512.9,420.9 L515.0,423 L512.9,425.1 L510.79999999999995,423 Z" fill="#4a6cc0"/>
<circle cx="364.2" cy="409.6" r="1.8" fill="#c8ecb8" stroke="#2fb040" stroke-width="0.7"/>
<circle cx="378.9" cy="393.9" r="1.8" fill="#c8ecb8" stroke="#2fb040" stroke-width="0.7"/>
<circle cx="388.5" cy="357" r="1.8" fill="#c8ecb8" stroke="#2fb040" stroke-width="0.7"/>
<circle cx="405.9" cy="408.7" r="1.8" fill="#c8ecb8" stroke="#2fb040" stroke-width="0.7"/>
<circle cx="416.3" cy="416.8" r="1.8" fill="#c8ecb8" stroke="#2fb040" stroke-width="0.7"/>
<circle cx="426.8" cy="354.3" r="1.8" fill="#c8ecb8" stroke="#2fb040" stroke-width="0.7"/>
<circle cx="430" cy="360" r="1.8" fill="#c8ecb8" stroke="#2fb040" stroke-width="0.7"/>
<circle cx="432.5" cy="373.3" r="1.8" fill="#c8ecb8" stroke="#2fb040" stroke-width="0.7"/>
<circle cx="440.1" cy="400.6" r="1.8" fill="#c8ecb8" stroke="#2fb040" stroke-width="0.7"/>
<circle cx="446.3" cy="395.8" r="1.8" fill="#c8ecb8" stroke="#2fb040" stroke-width="0.7"/>
<circle cx="451.6" cy="399" r="1.8" fill="#c8ecb8" stroke="#2fb040" stroke-width="0.7"/>
<circle cx="456.4" cy="396.8" r="1.8" fill="#c8ecb8" stroke="#2fb040" stroke-width="0.7"/>
<circle cx="464.8" cy="363.2" r="1.8" fill="#c8ecb8" stroke="#2fb040" stroke-width="0.7"/>
<circle cx="473.3" cy="385.3" r="1.8" fill="#c8ecb8" stroke="#2fb040" stroke-width="0.7"/>
<circle cx="483.2" cy="405.3" r="1.8" fill="#c8ecb8" stroke="#2fb040" stroke-width="0.7"/>
<circle cx="487.4" cy="408.4" r="1.8" fill="#c8ecb8" stroke="#2fb040" stroke-width="0.7"/>
<circle cx="492.2" cy="405.7" r="1.8" fill="#c8ecb8" stroke="#2fb040" stroke-width="0.7"/>
<circle cx="495.5" cy="380.9" r="1.8" fill="#c8ecb8" stroke="#2fb040" stroke-width="0.7"/>
<circle cx="498.7" cy="366.7" r="1.8" fill="#c8ecb8" stroke="#2fb040" stroke-width="0.7"/>
<circle cx="504.6" cy="372.8" r="1.8" fill="#c8ecb8" stroke="#2fb040" stroke-width="0.7"/>
<circle cx="510.7" cy="375.5" r="1.8" fill="#c8ecb8" stroke="#2fb040" stroke-width="0.7"/>
<circle cx="510.7" cy="375.5" r="1.6" fill="#fff" stroke="#2fb040" stroke-width="0.7"/>
<circle cx="416.3" cy="416.8" r="1.6" fill="#e8301c"/>
<circle cx="415.3" cy="380" r="1.4" fill="#e8301c"/>
<circle cx="469.5" cy="378" r="1.4" fill="#e8301c"/>
<circle cx="469.5" cy="407.8" r="1.4" fill="#e8301c"/>
<line x1="350.8" y1="322" x2="362.8" y2="322" stroke="#4a6cc0" stroke-width="1.4" stroke-dasharray="2.6,1.3"/>
<path d="M356.8,319.9 L358.90000000000003,322 L356.8,324.1 L354.7,322 Z" fill="#4a6cc0"/>
<text x="364.7" y="324.5" font-family="'Liberation Sans', sans-serif" font-size="6.6" fill="#404040" textLength="24" lengthAdjust="spacingAndGlyphs">MAS 017</text>
<line x1="395.5" y1="322" x2="407.5" y2="322" stroke="#2fb040" stroke-width="1.4" stroke-dasharray="2.6,1.3"/>
<circle cx="401.5" cy="322" r="1.5" fill="#d8f0c8" stroke="#2fb040" stroke-width="0.6"/>
<text x="408.3" y="324.5" font-family="'Liberation Sans', sans-serif" font-size="6.6" fill="#404040" textLength="21" lengthAdjust="spacingAndGlyphs">P030-1r</text>
<text x="441" y="323.8" font-family="'Liberation Sans', sans-serif" font-size="4.6" font-style="italic" fill="#404040" textLength="88" lengthAdjust="spacingAndGlyphs">in red color data from Brozzo et al. (2011)</text>
<text x="153" y="274.6" font-family="'Liberation Serif', serif" font-size="11" text-anchor="middle" fill="#111">(<tspan font-weight="bold">a</tspan>)</text>
<text x="425.7" y="274.6" font-family="'Liberation Serif', serif" font-size="11" text-anchor="middle" fill="#111">(<tspan font-weight="bold">b</tspan>)</text>
<text x="153.3" y="518.9" font-family="'Liberation Serif', serif" font-size="11" text-anchor="middle" fill="#111">(<tspan font-weight="bold">c</tspan>)</text>
<text x="425.6" y="518.9" font-family="'Liberation Serif', serif" font-size="11" text-anchor="middle" fill="#111">(<tspan font-weight="bold">d</tspan>)</text>
</svg>
</body></html>
